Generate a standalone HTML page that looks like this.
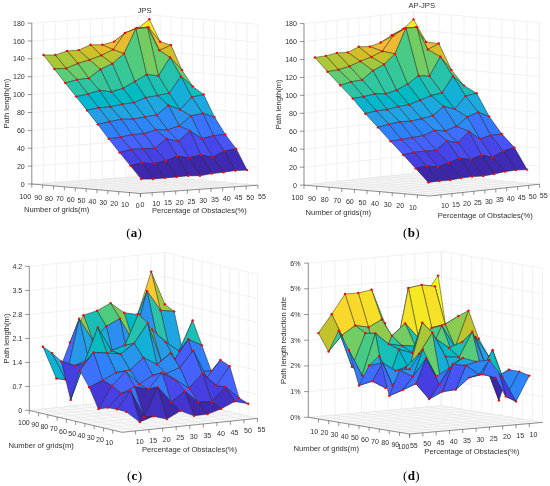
<!DOCTYPE html>
<html><head><meta charset="utf-8"><title>Figure</title>
<style>html,body{margin:0;padding:0;background:#fff}svg{display:block}
text{font-family:"Liberation Sans",Arial,sans-serif;fill:#303030}
.cap{font-family:"Liberation Serif","DejaVu Serif",serif;fill:#000}
.g{stroke:#e2e2e2;stroke-width:.5;fill:none}
.a{stroke:#4d4d4d;stroke-width:.6;fill:none}
.e{stroke:#1a1a1a;stroke-width:.45;fill:none;stroke-linejoin:round}
.m{fill:#f00}</style></head>
<body><svg width="550" height="486" viewBox="0 0 550 486">
<rect width="550" height="486" fill="#fff"/>
<g id="pa">
<polygon points="140.4,193.5 31.8,184 149.3,175.7 257.9,185.2" fill="#f8f8f8"/>
<path d="M140.4,193.5 L257.9,185.2" class="g"/>
<path d="M257.9,185.2 L257.9,24.3" class="g"/>
<path d="M129.5,192.6 L247,184.2" class="g"/>
<path d="M247,184.2 L247,23.3" class="g"/>
<path d="M118.7,191.6 L236.2,183.3" class="g"/>
<path d="M236.2,183.3 L236.2,22.4" class="g"/>
<path d="M107.8,190.7 L225.3,182.3" class="g"/>
<path d="M225.3,182.3 L225.3,21.4" class="g"/>
<path d="M97,189.7 L214.5,181.4" class="g"/>
<path d="M214.5,181.4 L214.5,20.5" class="g"/>
<path d="M86.1,188.8 L203.6,180.4" class="g"/>
<path d="M203.6,180.4 L203.6,19.5" class="g"/>
<path d="M75.2,187.8 L192.7,179.5" class="g"/>
<path d="M192.7,179.5 L192.7,18.6" class="g"/>
<path d="M64.4,186.8 L181.9,178.5" class="g"/>
<path d="M181.9,178.5 L181.9,17.6" class="g"/>
<path d="M53.5,185.9 L171,177.6" class="g"/>
<path d="M171,177.6 L171,16.7" class="g"/>
<path d="M42.7,184.9 L160.2,176.6" class="g"/>
<path d="M160.2,176.6 L160.2,15.7" class="g"/>
<path d="M31.8,184 L149.3,175.7" class="g"/>
<path d="M149.3,175.7 L149.3,14.8" class="g"/>
<path d="M140.4,193.5 L31.8,184" class="g"/>
<path d="M31.8,184 L31.8,23.1" class="g"/>
<path d="M152.2,192.7 L43.6,183.2" class="g"/>
<path d="M43.6,183.2 L43.6,22.2" class="g"/>
<path d="M163.9,191.8 L55.3,182.3" class="g"/>
<path d="M55.3,182.3 L55.3,21.4" class="g"/>
<path d="M175.7,191 L67.1,181.5" class="g"/>
<path d="M67.1,181.5 L67.1,20.6" class="g"/>
<path d="M187.4,190.2 L78.8,180.7" class="g"/>
<path d="M78.8,180.7 L78.8,19.8" class="g"/>
<path d="M199.2,189.3 L90.6,179.8" class="g"/>
<path d="M90.6,179.8 L90.6,18.9" class="g"/>
<path d="M210.9,188.5 L102.3,179" class="g"/>
<path d="M102.3,179 L102.3,18.1" class="g"/>
<path d="M222.7,187.7 L114.1,178.2" class="g"/>
<path d="M114.1,178.2 L114.1,17.3" class="g"/>
<path d="M234.4,186.9 L125.8,177.4" class="g"/>
<path d="M125.8,177.4 L125.8,16.4" class="g"/>
<path d="M246.2,186 L137.6,176.5" class="g"/>
<path d="M137.6,176.5 L137.6,15.6" class="g"/>
<path d="M257.9,185.2 L149.3,175.7" class="g"/>
<path d="M149.3,175.7 L149.3,14.8" class="g"/>
<path d="M31.8,184 L149.3,175.7" class="g"/>
<path d="M257.9,185.2 L149.3,175.7" class="g"/>
<path d="M31.8,166.1 L149.3,157.8" class="g"/>
<path d="M257.9,167.3 L149.3,157.8" class="g"/>
<path d="M31.8,148.2 L149.3,139.9" class="g"/>
<path d="M257.9,149.4 L149.3,139.9" class="g"/>
<path d="M31.8,130.4 L149.3,122.1" class="g"/>
<path d="M257.9,131.6 L149.3,122.1" class="g"/>
<path d="M31.8,112.5 L149.3,104.2" class="g"/>
<path d="M257.9,113.7 L149.3,104.2" class="g"/>
<path d="M31.8,94.6 L149.3,86.3" class="g"/>
<path d="M257.9,95.8 L149.3,86.3" class="g"/>
<path d="M31.8,76.7 L149.3,68.4" class="g"/>
<path d="M257.9,77.9 L149.3,68.4" class="g"/>
<path d="M31.8,58.8 L149.3,50.5" class="g"/>
<path d="M257.9,60 L149.3,50.5" class="g"/>
<path d="M31.8,41 L149.3,32.7" class="g"/>
<path d="M257.9,42.2 L149.3,32.7" class="g"/>
<path d="M31.8,23.1 L149.3,14.8" class="g"/>
<path d="M257.9,24.3 L149.3,14.8" class="g"/>
<path d="M140.4,193.5 L31.8,184" class="a"/>
<path d="M140.4,193.5 L257.9,185.2" class="a"/>
<path d="M31.8,184 L31.8,23.1" class="a"/>
<path d="M140.4,193.5 L140.4,197.1" class="a"/>
<text x="139.8" y="208.1" font-size="7.1" text-anchor="end" >0</text>
<path d="M129.5,192.6 L129.5,196.2" class="a"/>
<text x="128.9" y="207.2" font-size="7.1" text-anchor="end" >10</text>
<path d="M118.7,191.6 L118.7,195.2" class="a"/>
<text x="118.1" y="206.2" font-size="7.1" text-anchor="end" >20</text>
<path d="M107.8,190.7 L107.8,194.2" class="a"/>
<text x="107.2" y="205.2" font-size="7.1" text-anchor="end" >30</text>
<path d="M97,189.7 L97,193.3" class="a"/>
<text x="96.4" y="204.3" font-size="7.1" text-anchor="end" >40</text>
<path d="M86.1,188.8 L86.1,192.3" class="a"/>
<text x="85.5" y="203.3" font-size="7.1" text-anchor="end" >50</text>
<path d="M75.2,187.8 L75.2,191.4" class="a"/>
<text x="74.6" y="202.4" font-size="7.1" text-anchor="end" >60</text>
<path d="M64.4,186.8 L64.4,190.4" class="a"/>
<text x="63.8" y="201.4" font-size="7.1" text-anchor="end" >70</text>
<path d="M53.5,185.9 L53.5,189.5" class="a"/>
<text x="52.9" y="200.5" font-size="7.1" text-anchor="end" >80</text>
<path d="M42.7,184.9 L42.7,188.5" class="a"/>
<text x="42.1" y="199.5" font-size="7.1" text-anchor="end" >90</text>
<path d="M31.8,184 L31.8,187.6" class="a"/>
<text x="31.2" y="198.6" font-size="7.1" text-anchor="end" >100</text>
<path d="M140.4,193.5 L140.4,197.1" class="a"/>
<text x="140.5" y="207" font-size="7.1" text-anchor="start" >0</text>
<path d="M152.2,192.7 L152.2,196.3" class="a"/>
<text x="152.2" y="206.2" font-size="7.1" text-anchor="start" >10</text>
<path d="M163.9,191.8 L163.9,195.4" class="a"/>
<text x="164" y="205.3" font-size="7.1" text-anchor="start" >15</text>
<path d="M175.7,191 L175.7,194.6" class="a"/>
<text x="175.8" y="204.5" font-size="7.1" text-anchor="start" >20</text>
<path d="M187.4,190.2 L187.4,193.8" class="a"/>
<text x="187.5" y="203.7" font-size="7.1" text-anchor="start" >25</text>
<path d="M199.2,189.3 L199.2,192.9" class="a"/>
<text x="199.2" y="202.8" font-size="7.1" text-anchor="start" >30</text>
<path d="M210.9,188.5 L210.9,192.1" class="a"/>
<text x="211" y="202" font-size="7.1" text-anchor="start" >35</text>
<path d="M222.7,187.7 L222.7,191.3" class="a"/>
<text x="222.8" y="201.2" font-size="7.1" text-anchor="start" >40</text>
<path d="M234.4,186.9 L234.4,190.5" class="a"/>
<text x="234.5" y="200.4" font-size="7.1" text-anchor="start" >45</text>
<path d="M246.2,186 L246.2,189.6" class="a"/>
<text x="246.2" y="199.5" font-size="7.1" text-anchor="start" >50</text>
<path d="M257.9,185.2 L257.9,188.8" class="a"/>
<text x="258" y="198.7" font-size="7.1" text-anchor="start" >55</text>
<path d="M31.8,184 L27.6,184" class="a"/>
<text x="24.8" y="186.5" font-size="7.1" text-anchor="end" >0</text>
<path d="M31.8,166.1 L27.6,166.1" class="a"/>
<text x="24.8" y="168.6" font-size="7.1" text-anchor="end" >20</text>
<path d="M31.8,148.2 L27.6,148.2" class="a"/>
<text x="24.8" y="150.7" font-size="7.1" text-anchor="end" >40</text>
<path d="M31.8,130.4 L27.6,130.4" class="a"/>
<text x="24.8" y="132.9" font-size="7.1" text-anchor="end" >60</text>
<path d="M31.8,112.5 L27.6,112.5" class="a"/>
<text x="24.8" y="115" font-size="7.1" text-anchor="end" >80</text>
<path d="M31.8,94.6 L27.6,94.6" class="a"/>
<text x="24.8" y="97.1" font-size="7.1" text-anchor="end" >100</text>
<path d="M31.8,76.7 L27.6,76.7" class="a"/>
<text x="24.8" y="79.2" font-size="7.1" text-anchor="end" >120</text>
<path d="M31.8,58.8 L27.6,58.8" class="a"/>
<text x="24.8" y="61.3" font-size="7.1" text-anchor="end" >140</text>
<path d="M31.8,41 L27.6,41" class="a"/>
<text x="24.8" y="43.5" font-size="7.1" text-anchor="end" >160</text>
<path d="M31.8,23.1 L27.6,23.1" class="a"/>
<text x="24.8" y="25.6" font-size="7.1" text-anchor="end" >180</text>
<text x="8.9" y="103.6" font-size="7.6" text-anchor="middle" transform="rotate(-90 8.9 103.6)">Path length(m)</text>
<text x="56.7" y="212" font-size="7.6" text-anchor="middle" >Number of grids(m)</text>
<text x="199.4" y="213" font-size="7.6" text-anchor="middle" >Percentage of Obstacles(%)</text>
<text x="144.5" y="12.5" font-size="7.6" text-anchor="middle" >JPS</text>
<path d="M148.4,27.2 L137.6,28.5 L149.3,19.2 Z M148.4,27.2 L149.3,19.2 L160.2,41.8 Z" fill="#f5eb23" stroke="#f5eb23" stroke-width="0.25"/>
<path d="M148.4,27.2 L137.6,28.5 L149.3,19.2 L160.2,41.8 Z" class="e"/>
<g class="m"><circle cx="149.3" cy="19.2" r="1.2"/></g>
<path d="M136.7,28 L125.8,34.2 L137.6,28.5 Z M136.7,28 L137.6,28.5 L148.4,27.2 Z" fill="#f5eb23" stroke="#f5eb23" stroke-width="0.25"/>
<path d="M136.7,28 L125.8,34.2 L137.6,28.5 L148.4,27.2 Z" class="e"/>
<g class="m"><circle cx="137.6" cy="28.5" r="1.2"/></g>
<path d="M124.9,33 L114.1,41.6 L125.8,34.2 Z M124.9,33 L125.8,34.2 L136.7,28 Z" fill="#f6df29" stroke="#f6df29" stroke-width="0.25"/>
<path d="M124.9,33 L114.1,41.6 L125.8,34.2 L136.7,28 Z" class="e"/>
<g class="m"><circle cx="125.8" cy="34.2" r="1.2"/></g>
<path d="M113.2,49.6 L102.3,44.8 L114.1,41.6 Z M113.2,49.6 L114.1,41.6 L124.9,33 Z" fill="#f5ba3a" stroke="#f5ba3a" stroke-width="0.25"/>
<path d="M113.2,49.6 L102.3,44.8 L114.1,41.6 L124.9,33 Z" class="e"/>
<g class="m"><circle cx="114.1" cy="41.6" r="1.2"/></g>
<path d="M101.4,55.4 L90.6,44.8 L102.3,44.8 Z M101.4,55.4 L102.3,44.8 L113.2,49.6 Z" fill="#e1bc2b" stroke="#e1bc2b" stroke-width="0.25"/>
<path d="M101.4,55.4 L90.6,44.8 L102.3,44.8 L113.2,49.6 Z" class="e"/>
<g class="m"><circle cx="102.3" cy="44.8" r="1.2"/></g>
<path d="M89.7,59.9 L78.8,50.1 L90.6,44.8 Z M89.7,59.9 L90.6,44.8 L101.4,55.4 Z" fill="#cfc028" stroke="#cfc028" stroke-width="0.25"/>
<path d="M89.7,59.9 L78.8,50.1 L90.6,44.8 L101.4,55.4 Z" class="e"/>
<g class="m"><circle cx="90.6" cy="44.8" r="1.2"/></g>
<path d="M77.9,63.4 L67.1,51 L78.8,50.1 Z M77.9,63.4 L78.8,50.1 L89.7,59.9 Z" fill="#c1c32c" stroke="#c1c32c" stroke-width="0.25"/>
<path d="M77.9,63.4 L67.1,51 L78.8,50.1 L89.7,59.9 Z" class="e"/>
<g class="m"><circle cx="78.8" cy="50.1" r="1.2"/></g>
<path d="M66.2,68.5 L55.3,55 L67.1,51 Z M66.2,68.5 L67.1,51 L77.9,63.4 Z" fill="#a9c73a" stroke="#a9c73a" stroke-width="0.25"/>
<path d="M66.2,68.5 L55.3,55 L67.1,51 L77.9,63.4 Z" class="e"/>
<g class="m"><circle cx="67.1" cy="51" r="1.2"/></g>
<path d="M54.4,69 L43.6,55 L55.3,55 Z M54.4,69 L55.3,55 L66.2,68.5 Z" fill="#abc739" stroke="#abc739" stroke-width="0.25"/>
<path d="M54.4,69 L43.6,55 L55.3,55 L66.2,68.5 Z" class="e"/>
<g class="m"><circle cx="55.3" cy="55" r="1.2"/><circle cx="43.6" cy="55" r="1.2"/></g>
<path d="M159.3,50.3 L148.4,27.2 L160.2,41.8 Z M159.3,50.3 L160.2,41.8 L171,45.1 Z" fill="#ecba33" stroke="#ecba33" stroke-width="0.25"/>
<path d="M159.3,50.3 L148.4,27.2 L160.2,41.8 L171,45.1 Z" class="e"/>
<g class="m"><circle cx="160.2" cy="41.8" r="1.2"/></g>
<path d="M147.5,27.6 L136.7,28 L148.4,27.2 Z M147.5,27.6 L148.4,27.2 L159.3,50.3 Z" fill="#f5ee21" stroke="#f5ee21" stroke-width="0.25"/>
<path d="M147.5,27.6 L136.7,28 L148.4,27.2 L159.3,50.3 Z" class="e"/>
<g class="m"><circle cx="148.4" cy="27.2" r="1.2"/></g>
<path d="M135.8,28.8 L124.9,33 L136.7,28 Z M135.8,28.8 L136.7,28 L147.5,27.6 Z" fill="#f5ed21" stroke="#f5ed21" stroke-width="0.25"/>
<path d="M135.8,28.8 L124.9,33 L136.7,28 L147.5,27.6 Z" class="e"/>
<g class="m"><circle cx="136.7" cy="28" r="1.2"/></g>
<path d="M124,53.7 L113.2,49.6 L124.9,33 Z M124,53.7 L124.9,33 L135.8,28.8 Z" fill="#e9bb2f" stroke="#e9bb2f" stroke-width="0.25"/>
<path d="M124,53.7 L113.2,49.6 L124.9,33 L135.8,28.8 Z" class="e"/>
<g class="m"><circle cx="124.9" cy="33" r="1.2"/></g>
<path d="M112.3,63.7 L101.4,55.4 L113.2,49.6 Z M112.3,63.7 L113.2,49.6 L124,53.7 Z" fill="#bcc42f" stroke="#bcc42f" stroke-width="0.25"/>
<path d="M112.3,63.7 L101.4,55.4 L113.2,49.6 L124,53.7 Z" class="e"/>
<g class="m"><circle cx="113.2" cy="49.6" r="1.2"/></g>
<path d="M100.5,69.4 L89.7,59.9 L101.4,55.4 Z M100.5,69.4 L101.4,55.4 L112.3,63.7 Z" fill="#9fc941" stroke="#9fc941" stroke-width="0.25"/>
<path d="M100.5,69.4 L89.7,59.9 L101.4,55.4 L112.3,63.7 Z" class="e"/>
<g class="m"><circle cx="101.4" cy="55.4" r="1.2"/></g>
<path d="M88.8,78.2 L77.9,63.4 L89.7,59.9 Z M88.8,78.2 L89.7,59.9 L100.5,69.4 Z" fill="#6dcd68" stroke="#6dcd68" stroke-width="0.25"/>
<path d="M88.8,78.2 L77.9,63.4 L89.7,59.9 L100.5,69.4 Z" class="e"/>
<g class="m"><circle cx="89.7" cy="59.9" r="1.2"/></g>
<path d="M77,79.8 L66.2,68.5 L77.9,63.4 Z M77,79.8 L77.9,63.4 L88.8,78.2 Z" fill="#68cd6b" stroke="#68cd6b" stroke-width="0.25"/>
<path d="M77,79.8 L66.2,68.5 L77.9,63.4 L88.8,78.2 Z" class="e"/>
<g class="m"><circle cx="77.9" cy="63.4" r="1.2"/></g>
<path d="M65.3,83 L54.4,69 L66.2,68.5 Z M65.3,83 L66.2,68.5 L77,79.8 Z" fill="#5bcc77" stroke="#5bcc77" stroke-width="0.25"/>
<path d="M65.3,83 L54.4,69 L66.2,68.5 L77,79.8 Z" class="e"/>
<g class="m"><circle cx="66.2" cy="68.5" r="1.2"/><circle cx="54.4" cy="69" r="1.2"/></g>
<path d="M170.1,57.5 L159.3,50.3 L171,45.1 Z M170.1,57.5 L171,45.1 L181.9,70 Z" fill="#d0bf27" stroke="#d0bf27" stroke-width="0.25"/>
<path d="M170.1,57.5 L159.3,50.3 L171,45.1 L181.9,70 Z" class="e"/>
<g class="m"><circle cx="171" cy="45.1" r="1.2"/></g>
<path d="M158.4,75.8 L147.5,27.6 L159.3,50.3 Z M158.4,75.8 L159.3,50.3 L170.1,57.5 Z" fill="#68cd6c" stroke="#68cd6c" stroke-width="0.25"/>
<path d="M158.4,75.8 L147.5,27.6 L159.3,50.3 L170.1,57.5 Z" class="e"/>
<g class="m"><circle cx="159.3" cy="50.3" r="1.2"/></g>
<path d="M146.6,74.6 L135.8,28.8 L147.5,27.6 Z M146.6,74.6 L147.5,27.6 L158.4,75.8 Z" fill="#75cc62" stroke="#75cc62" stroke-width="0.25"/>
<path d="M146.6,74.6 L135.8,28.8 L147.5,27.6 L158.4,75.8 Z" class="e"/>
<g class="m"><circle cx="147.5" cy="27.6" r="1.2"/></g>
<path d="M134.9,81.5 L124,53.7 L135.8,28.8 Z M134.9,81.5 L135.8,28.8 L146.6,74.6 Z" fill="#51cc7f" stroke="#51cc7f" stroke-width="0.25"/>
<path d="M134.9,81.5 L124,53.7 L135.8,28.8 L146.6,74.6 Z" class="e"/>
<g class="m"><circle cx="135.8" cy="28.8" r="1.2"/></g>
<path d="M123.1,88.4 L112.3,63.7 L124,53.7 Z M123.1,88.4 L124,53.7 L134.9,81.5 Z" fill="#37c898" stroke="#37c898" stroke-width="0.25"/>
<path d="M123.1,88.4 L112.3,63.7 L124,53.7 L134.9,81.5 Z" class="e"/>
<g class="m"><circle cx="124" cy="53.7" r="1.2"/></g>
<path d="M111.4,91.8 L100.5,69.4 L112.3,63.7 Z M111.4,91.8 L112.3,63.7 L123.1,88.4 Z" fill="#30c5a1" stroke="#30c5a1" stroke-width="0.25"/>
<path d="M111.4,91.8 L100.5,69.4 L112.3,63.7 L123.1,88.4 Z" class="e"/>
<g class="m"><circle cx="112.3" cy="63.7" r="1.2"/></g>
<path d="M99.6,90.5 L88.8,78.2 L100.5,69.4 Z M99.6,90.5 L100.5,69.4 L111.4,91.8 Z" fill="#35c799" stroke="#35c799" stroke-width="0.25"/>
<path d="M99.6,90.5 L88.8,78.2 L100.5,69.4 L111.4,91.8 Z" class="e"/>
<g class="m"><circle cx="100.5" cy="69.4" r="1.2"/></g>
<path d="M87.9,94.1 L77,79.8 L88.8,78.2 Z M87.9,94.1 L88.8,78.2 L99.6,90.5 Z" fill="#2fc5a3" stroke="#2fc5a3" stroke-width="0.25"/>
<path d="M87.9,94.1 L77,79.8 L88.8,78.2 L99.6,90.5 Z" class="e"/>
<g class="m"><circle cx="88.8" cy="78.2" r="1.2"/></g>
<path d="M76.1,96.6 L65.3,83 L77,79.8 Z M76.1,96.6 L77,79.8 L87.9,94.1 Z" fill="#2ac3a9" stroke="#2ac3a9" stroke-width="0.25"/>
<path d="M76.1,96.6 L65.3,83 L77,79.8 L87.9,94.1 Z" class="e"/>
<g class="m"><circle cx="77" cy="79.8" r="1.2"/><circle cx="65.3" cy="83" r="1.2"/></g>
<path d="M181,76.4 L170.1,57.5 L181.9,70 Z M181,76.4 L181.9,70 L192.7,86.4 Z" fill="#65cd6e" stroke="#65cd6e" stroke-width="0.25"/>
<path d="M181,76.4 L170.1,57.5 L181.9,70 L192.7,86.4 Z" class="e"/>
<g class="m"><circle cx="181.9" cy="70" r="1.2"/></g>
<path d="M169.2,93.1 L158.4,75.8 L170.1,57.5 Z M169.2,93.1 L170.1,57.5 L181,76.4 Z" fill="#25c2ad" stroke="#25c2ad" stroke-width="0.25"/>
<path d="M169.2,93.1 L158.4,75.8 L170.1,57.5 L181,76.4 Z" class="e"/>
<g class="m"><circle cx="170.1" cy="57.5" r="1.2"/></g>
<path d="M157.5,95.6 L146.6,74.6 L158.4,75.8 Z M157.5,95.6 L158.4,75.8 L169.2,93.1 Z" fill="#1ec0b2" stroke="#1ec0b2" stroke-width="0.25"/>
<path d="M157.5,95.6 L146.6,74.6 L158.4,75.8 L169.2,93.1 Z" class="e"/>
<g class="m"><circle cx="158.4" cy="75.8" r="1.2"/></g>
<path d="M145.7,97.7 L134.9,81.5 L146.6,74.6 Z M145.7,97.7 L146.6,74.6 L157.5,95.6 Z" fill="#17bfb6" stroke="#17bfb6" stroke-width="0.25"/>
<path d="M145.7,97.7 L134.9,81.5 L146.6,74.6 L157.5,95.6 Z" class="e"/>
<g class="m"><circle cx="146.6" cy="74.6" r="1.2"/></g>
<path d="M134,102.6 L123.1,88.4 L134.9,81.5 Z M134,102.6 L134.9,81.5 L145.7,97.7 Z" fill="#03bbc2" stroke="#03bbc2" stroke-width="0.25"/>
<path d="M134,102.6 L123.1,88.4 L134.9,81.5 L145.7,97.7 Z" class="e"/>
<g class="m"><circle cx="134.9" cy="81.5" r="1.2"/></g>
<path d="M122.2,104.3 L111.4,91.8 L123.1,88.4 Z M122.2,104.3 L123.1,88.4 L134,102.6 Z" fill="#02bac5" stroke="#02bac5" stroke-width="0.25"/>
<path d="M122.2,104.3 L111.4,91.8 L123.1,88.4 L134,102.6 Z" class="e"/>
<g class="m"><circle cx="123.1" cy="88.4" r="1.2"/></g>
<path d="M110.5,106.9 L99.6,90.5 L111.4,91.8 Z M110.5,106.9 L111.4,91.8 L122.2,104.3 Z" fill="#01b8ca" stroke="#01b8ca" stroke-width="0.25"/>
<path d="M110.5,106.9 L99.6,90.5 L111.4,91.8 L122.2,104.3 Z" class="e"/>
<g class="m"><circle cx="111.4" cy="91.8" r="1.2"/></g>
<path d="M98.7,107.8 L87.9,94.1 L99.6,90.5 Z M98.7,107.8 L99.6,90.5 L110.5,106.9 Z" fill="#01b8ca" stroke="#01b8ca" stroke-width="0.25"/>
<path d="M98.7,107.8 L87.9,94.1 L99.6,90.5 L110.5,106.9 Z" class="e"/>
<g class="m"><circle cx="99.6" cy="90.5" r="1.2"/></g>
<path d="M87,110.4 L76.1,96.6 L87.9,94.1 Z M87,110.4 L87.9,94.1 L98.7,107.8 Z" fill="#06b5cf" stroke="#06b5cf" stroke-width="0.25"/>
<path d="M87,110.4 L76.1,96.6 L87.9,94.1 L98.7,107.8 Z" class="e"/>
<g class="m"><circle cx="87.9" cy="94.1" r="1.2"/><circle cx="76.1" cy="96.6" r="1.2"/></g>
<path d="M191.9,97.2 L181,76.4 L192.7,86.4 Z M191.9,97.2 L192.7,86.4 L203.6,94.5 Z" fill="#11beb9" stroke="#11beb9" stroke-width="0.25"/>
<path d="M191.9,97.2 L181,76.4 L192.7,86.4 L203.6,94.5 Z" class="e"/>
<g class="m"><circle cx="192.7" cy="86.4" r="1.2"/></g>
<path d="M180.1,109.7 L169.2,93.1 L181,76.4 Z M180.1,109.7 L181,76.4 L191.9,97.2 Z" fill="#16afd9" stroke="#16afd9" stroke-width="0.25"/>
<path d="M180.1,109.7 L169.2,93.1 L181,76.4 L191.9,97.2 Z" class="e"/>
<g class="m"><circle cx="181" cy="76.4" r="1.2"/></g>
<path d="M168.4,105.4 L157.5,95.6 L169.2,93.1 Z M168.4,105.4 L169.2,93.1 L180.1,109.7 Z" fill="#04b6cc" stroke="#04b6cc" stroke-width="0.25"/>
<path d="M168.4,105.4 L157.5,95.6 L169.2,93.1 L180.1,109.7 Z" class="e"/>
<g class="m"><circle cx="169.2" cy="93.1" r="1.2"/></g>
<path d="M156.6,115 L145.7,97.7 L157.5,95.6 Z M156.6,115 L157.5,95.6 L168.4,105.4 Z" fill="#1da8e0" stroke="#1da8e0" stroke-width="0.25"/>
<path d="M156.6,115 L145.7,97.7 L157.5,95.6 L168.4,105.4 Z" class="e"/>
<g class="m"><circle cx="157.5" cy="95.6" r="1.2"/></g>
<path d="M144.9,117 L134,102.6 L145.7,97.7 Z M144.9,117 L145.7,97.7 L156.6,115 Z" fill="#1fa6e2" stroke="#1fa6e2" stroke-width="0.25"/>
<path d="M144.9,117 L134,102.6 L145.7,97.7 L156.6,115 Z" class="e"/>
<g class="m"><circle cx="145.7" cy="97.7" r="1.2"/></g>
<path d="M133.1,119.1 L122.2,104.3 L134,102.6 Z M133.1,119.1 L134,102.6 L144.9,117 Z" fill="#21a3e3" stroke="#21a3e3" stroke-width="0.25"/>
<path d="M133.1,119.1 L122.2,104.3 L134,102.6 L144.9,117 Z" class="e"/>
<g class="m"><circle cx="134" cy="102.6" r="1.2"/></g>
<path d="M121.4,119.3 L110.5,106.9 L122.2,104.3 Z M121.4,119.3 L122.2,104.3 L133.1,119.1 Z" fill="#20a5e3" stroke="#20a5e3" stroke-width="0.25"/>
<path d="M121.4,119.3 L110.5,106.9 L122.2,104.3 L133.1,119.1 Z" class="e"/>
<g class="m"><circle cx="122.2" cy="104.3" r="1.2"/></g>
<path d="M109.6,121.7 L98.7,107.8 L110.5,106.9 Z M109.6,121.7 L110.5,106.9 L121.4,119.3 Z" fill="#22a1e4" stroke="#22a1e4" stroke-width="0.25"/>
<path d="M109.6,121.7 L98.7,107.8 L110.5,106.9 L121.4,119.3 Z" class="e"/>
<g class="m"><circle cx="110.5" cy="106.9" r="1.2"/></g>
<path d="M97.9,124.4 L87,110.4 L98.7,107.8 Z M97.9,124.4 L98.7,107.8 L109.6,121.7 Z" fill="#249ee6" stroke="#249ee6" stroke-width="0.25"/>
<path d="M97.9,124.4 L87,110.4 L98.7,107.8 L109.6,121.7 Z" class="e"/>
<g class="m"><circle cx="98.7" cy="107.8" r="1.2"/><circle cx="87" cy="110.4" r="1.2"/></g>
<path d="M202.7,113.4 L191.9,97.2 L203.6,94.5 Z M202.7,113.4 L203.6,94.5 L214.5,117.1 Z" fill="#1da8e0" stroke="#1da8e0" stroke-width="0.25"/>
<path d="M202.7,113.4 L191.9,97.2 L203.6,94.5 L214.5,117.1 Z" class="e"/>
<g class="m"><circle cx="203.6" cy="94.5" r="1.2"/></g>
<path d="M191,116 L180.1,109.7 L191.9,97.2 Z M191,116 L191.9,97.2 L202.7,113.4 Z" fill="#20a5e2" stroke="#20a5e2" stroke-width="0.25"/>
<path d="M191,116 L180.1,109.7 L191.9,97.2 L202.7,113.4 Z" class="e"/>
<g class="m"><circle cx="191.9" cy="97.2" r="1.2"/></g>
<path d="M179.2,125.9 L168.4,105.4 L180.1,109.7 Z M179.2,125.9 L180.1,109.7 L191,116 Z" fill="#2b92ee" stroke="#2b92ee" stroke-width="0.25"/>
<path d="M179.2,125.9 L168.4,105.4 L180.1,109.7 L191,116 Z" class="e"/>
<g class="m"><circle cx="180.1" cy="109.7" r="1.2"/></g>
<path d="M167.5,130 L156.6,115 L168.4,105.4 Z M167.5,130 L168.4,105.4 L179.2,125.9 Z" fill="#2d8af4" stroke="#2d8af4" stroke-width="0.25"/>
<path d="M167.5,130 L156.6,115 L168.4,105.4 L179.2,125.9 Z" class="e"/>
<g class="m"><circle cx="168.4" cy="105.4" r="1.2"/></g>
<path d="M155.7,129.8 L144.9,117 L156.6,115 Z M155.7,129.8 L156.6,115 L167.5,130 Z" fill="#2d8df2" stroke="#2d8df2" stroke-width="0.25"/>
<path d="M155.7,129.8 L144.9,117 L156.6,115 L167.5,130 Z" class="e"/>
<g class="m"><circle cx="156.6" cy="115" r="1.2"/></g>
<path d="M144,133.7 L133.1,119.1 L144.9,117 Z M144,133.7 L144.9,117 L155.7,129.8 Z" fill="#2e86f8" stroke="#2e86f8" stroke-width="0.25"/>
<path d="M144,133.7 L133.1,119.1 L144.9,117 L155.7,129.8 Z" class="e"/>
<g class="m"><circle cx="144.9" cy="117" r="1.2"/></g>
<path d="M132.2,134.7 L121.4,119.3 L133.1,119.1 Z M132.2,134.7 L133.1,119.1 L144,133.7 Z" fill="#2e85f8" stroke="#2e85f8" stroke-width="0.25"/>
<path d="M132.2,134.7 L121.4,119.3 L133.1,119.1 L144,133.7 Z" class="e"/>
<g class="m"><circle cx="133.1" cy="119.1" r="1.2"/></g>
<path d="M120.5,137.2 L109.6,121.7 L121.4,119.3 Z M120.5,137.2 L121.4,119.3 L132.2,134.7 Z" fill="#2f81fa" stroke="#2f81fa" stroke-width="0.25"/>
<path d="M120.5,137.2 L109.6,121.7 L121.4,119.3 L132.2,134.7 Z" class="e"/>
<g class="m"><circle cx="121.4" cy="119.3" r="1.2"/></g>
<path d="M108.7,138.8 L97.9,124.4 L109.6,121.7 Z M108.7,138.8 L109.6,121.7 L120.5,137.2 Z" fill="#307ffb" stroke="#307ffb" stroke-width="0.25"/>
<path d="M108.7,138.8 L97.9,124.4 L109.6,121.7 L120.5,137.2 Z" class="e"/>
<g class="m"><circle cx="109.6" cy="121.7" r="1.2"/><circle cx="97.9" cy="124.4" r="1.2"/></g>
<path d="M213.6,135.7 L202.7,113.4 L214.5,117.1 Z M213.6,135.7 L214.5,117.1 L225.3,134.5 Z" fill="#3579fd" stroke="#3579fd" stroke-width="0.25"/>
<path d="M213.6,135.7 L202.7,113.4 L214.5,117.1 L225.3,134.5 Z" class="e"/>
<g class="m"><circle cx="214.5" cy="117.1" r="1.2"/></g>
<path d="M201.8,138.6 L191,116 L202.7,113.4 Z M201.8,138.6 L202.7,113.4 L213.6,135.7 Z" fill="#3b73fe" stroke="#3b73fe" stroke-width="0.25"/>
<path d="M201.8,138.6 L191,116 L202.7,113.4 L213.6,135.7 Z" class="e"/>
<g class="m"><circle cx="202.7" cy="113.4" r="1.2"/></g>
<path d="M190.1,131 L179.2,125.9 L191,116 Z M190.1,131 L191,116 L201.8,138.6 Z" fill="#2d88f6" stroke="#2d88f6" stroke-width="0.25"/>
<path d="M190.1,131 L179.2,125.9 L191,116 L201.8,138.6 Z" class="e"/>
<g class="m"><circle cx="191" cy="116" r="1.2"/></g>
<path d="M178.3,141.3 L167.5,130 L179.2,125.9 Z M178.3,141.3 L179.2,125.9 L190.1,131 Z" fill="#3d70ff" stroke="#3d70ff" stroke-width="0.25"/>
<path d="M178.3,141.3 L167.5,130 L179.2,125.9 L190.1,131 Z" class="e"/>
<g class="m"><circle cx="179.2" cy="125.9" r="1.2"/></g>
<path d="M166.6,138.8 L155.7,129.8 L167.5,130 Z M166.6,138.8 L167.5,130 L178.3,141.3 Z" fill="#3479fd" stroke="#3479fd" stroke-width="0.25"/>
<path d="M166.6,138.8 L155.7,129.8 L167.5,130 L178.3,141.3 Z" class="e"/>
<g class="m"><circle cx="167.5" cy="130" r="1.2"/></g>
<path d="M154.8,148.3 L144,133.7 L155.7,129.8 Z M154.8,148.3 L155.7,129.8 L166.6,138.8 Z" fill="#4562fc" stroke="#4562fc" stroke-width="0.25"/>
<path d="M154.8,148.3 L144,133.7 L155.7,129.8 L166.6,138.8 Z" class="e"/>
<g class="m"><circle cx="155.7" cy="129.8" r="1.2"/></g>
<path d="M143.1,148.9 L132.2,134.7 L144,133.7 Z M143.1,148.9 L144,133.7 L154.8,148.3 Z" fill="#4563fc" stroke="#4563fc" stroke-width="0.25"/>
<path d="M143.1,148.9 L132.2,134.7 L144,133.7 L154.8,148.3 Z" class="e"/>
<g class="m"><circle cx="144" cy="133.7" r="1.2"/></g>
<path d="M131.3,149.5 L120.5,137.2 L132.2,134.7 Z M131.3,149.5 L132.2,134.7 L143.1,148.9 Z" fill="#4563fd" stroke="#4563fd" stroke-width="0.25"/>
<path d="M131.3,149.5 L120.5,137.2 L132.2,134.7 L143.1,148.9 Z" class="e"/>
<g class="m"><circle cx="132.2" cy="134.7" r="1.2"/></g>
<path d="M119.6,152.6 L108.7,138.8 L120.5,137.2 Z M119.6,152.6 L120.5,137.2 L131.3,149.5 Z" fill="#465efb" stroke="#465efb" stroke-width="0.25"/>
<path d="M119.6,152.6 L108.7,138.8 L120.5,137.2 L131.3,149.5 Z" class="e"/>
<g class="m"><circle cx="120.5" cy="137.2" r="1.2"/><circle cx="108.7" cy="138.8" r="1.2"/></g>
<path d="M224.4,151 L213.6,135.7 L225.3,134.5 Z M224.4,151 L225.3,134.5 L236.2,148.9 Z" fill="#4854f5" stroke="#4854f5" stroke-width="0.25"/>
<path d="M224.4,151 L213.6,135.7 L225.3,134.5 L236.2,148.9 Z" class="e"/>
<g class="m"><circle cx="225.3" cy="134.5" r="1.2"/></g>
<path d="M212.7,157.3 L201.8,138.6 L213.6,135.7 Z M212.7,157.3 L213.6,135.7 L224.4,151 Z" fill="#4746ea" stroke="#4746ea" stroke-width="0.25"/>
<path d="M212.7,157.3 L201.8,138.6 L213.6,135.7 L224.4,151 Z" class="e"/>
<g class="m"><circle cx="213.6" cy="135.7" r="1.2"/></g>
<path d="M200.9,155.1 L190.1,131 L201.8,138.6 Z M200.9,155.1 L201.8,138.6 L212.7,157.3 Z" fill="#484ef1" stroke="#484ef1" stroke-width="0.25"/>
<path d="M200.9,155.1 L190.1,131 L201.8,138.6 L212.7,157.3 Z" class="e"/>
<g class="m"><circle cx="201.8" cy="138.6" r="1.2"/></g>
<path d="M189.2,157.8 L178.3,141.3 L190.1,131 Z M189.2,157.8 L190.1,131 L200.9,155.1 Z" fill="#4849ed" stroke="#4849ed" stroke-width="0.25"/>
<path d="M189.2,157.8 L178.3,141.3 L190.1,131 L200.9,155.1 Z" class="e"/>
<g class="m"><circle cx="190.1" cy="131" r="1.2"/></g>
<path d="M177.4,156.3 L166.6,138.8 L178.3,141.3 Z M177.4,156.3 L178.3,141.3 L189.2,157.8 Z" fill="#484ff2" stroke="#484ff2" stroke-width="0.25"/>
<path d="M177.4,156.3 L166.6,138.8 L178.3,141.3 L189.2,157.8 Z" class="e"/>
<g class="m"><circle cx="178.3" cy="141.3" r="1.2"/></g>
<path d="M165.7,160.8 L154.8,148.3 L166.6,138.8 Z M165.7,160.8 L166.6,138.8 L177.4,156.3 Z" fill="#4746ea" stroke="#4746ea" stroke-width="0.25"/>
<path d="M165.7,160.8 L154.8,148.3 L166.6,138.8 L177.4,156.3 Z" class="e"/>
<g class="m"><circle cx="166.6" cy="138.8" r="1.2"/></g>
<path d="M153.9,163.7 L143.1,148.9 L154.8,148.3 Z M153.9,163.7 L154.8,148.3 L165.7,160.8 Z" fill="#4741e5" stroke="#4741e5" stroke-width="0.25"/>
<path d="M153.9,163.7 L143.1,148.9 L154.8,148.3 L165.7,160.8 Z" class="e"/>
<g class="m"><circle cx="154.8" cy="148.3" r="1.2"/></g>
<path d="M142.2,162.9 L131.3,149.5 L143.1,148.9 Z M142.2,162.9 L143.1,148.9 L153.9,163.7 Z" fill="#4745e9" stroke="#4745e9" stroke-width="0.25"/>
<path d="M142.2,162.9 L131.3,149.5 L143.1,148.9 L153.9,163.7 Z" class="e"/>
<g class="m"><circle cx="143.1" cy="148.9" r="1.2"/></g>
<path d="M130.4,165.6 L119.6,152.6 L131.3,149.5 Z M130.4,165.6 L131.3,149.5 L142.2,162.9 Z" fill="#4740e4" stroke="#4740e4" stroke-width="0.25"/>
<path d="M130.4,165.6 L119.6,152.6 L131.3,149.5 L142.2,162.9 Z" class="e"/>
<g class="m"><circle cx="131.3" cy="149.5" r="1.2"/><circle cx="119.6" cy="152.6" r="1.2"/></g>
<path d="M235.3,170.5 L224.4,151 L236.2,148.9 Z M235.3,170.5 L236.2,148.9 L247,170.1 Z" fill="#402bb6" stroke="#402bb6" stroke-width="0.25"/>
<path d="M235.3,170.5 L224.4,151 L236.2,148.9 L247,170.1 Z" class="e"/>
<g class="m"><circle cx="236.2" cy="148.9" r="1.2"/><circle cx="247" cy="170.1" r="1.2"/></g>
<path d="M223.5,172.2 L212.7,157.3 L224.4,151 Z M223.5,172.2 L224.4,151 L235.3,170.5 Z" fill="#3f29b2" stroke="#3f29b2" stroke-width="0.25"/>
<path d="M223.5,172.2 L212.7,157.3 L224.4,151 L235.3,170.5 Z" class="e"/>
<g class="m"><circle cx="224.4" cy="151" r="1.2"/><circle cx="235.3" cy="170.5" r="1.2"/></g>
<path d="M211.8,173.6 L200.9,155.1 L212.7,157.3 Z M211.8,173.6 L212.7,157.3 L223.5,172.2 Z" fill="#3f28af" stroke="#3f28af" stroke-width="0.25"/>
<path d="M211.8,173.6 L200.9,155.1 L212.7,157.3 L223.5,172.2 Z" class="e"/>
<g class="m"><circle cx="212.7" cy="157.3" r="1.2"/><circle cx="223.5" cy="172.2" r="1.2"/></g>
<path d="M200,175.7 L189.2,157.8 L200.9,155.1 Z M200,175.7 L200.9,155.1 L211.8,173.6 Z" fill="#3e26a8" stroke="#3e26a8" stroke-width="0.25"/>
<path d="M200,175.7 L189.2,157.8 L200.9,155.1 L211.8,173.6 Z" class="e"/>
<g class="m"><circle cx="200.9" cy="155.1" r="1.2"/><circle cx="211.8" cy="173.6" r="1.2"/></g>
<path d="M188.3,175.7 L177.4,156.3 L189.2,157.8 Z M188.3,175.7 L189.2,157.8 L200,175.7 Z" fill="#3f28ad" stroke="#3f28ad" stroke-width="0.25"/>
<path d="M188.3,175.7 L177.4,156.3 L189.2,157.8 L200,175.7 Z" class="e"/>
<g class="m"><circle cx="189.2" cy="157.8" r="1.2"/><circle cx="200" cy="175.7" r="1.2"/></g>
<path d="M176.5,176.9 L165.7,160.8 L177.4,156.3 Z M176.5,176.9 L177.4,156.3 L188.3,175.7 Z" fill="#3e27ab" stroke="#3e27ab" stroke-width="0.25"/>
<path d="M176.5,176.9 L165.7,160.8 L177.4,156.3 L188.3,175.7 Z" class="e"/>
<g class="m"><circle cx="177.4" cy="156.3" r="1.2"/><circle cx="188.3" cy="175.7" r="1.2"/></g>
<path d="M164.8,177.9 L153.9,163.7 L165.7,160.8 Z M164.8,177.9 L165.7,160.8 L176.5,176.9 Z" fill="#3e27aa" stroke="#3e27aa" stroke-width="0.25"/>
<path d="M164.8,177.9 L153.9,163.7 L165.7,160.8 L176.5,176.9 Z" class="e"/>
<g class="m"><circle cx="165.7" cy="160.8" r="1.2"/><circle cx="176.5" cy="176.9" r="1.2"/></g>
<path d="M153,179 L142.2,162.9 L153.9,163.7 Z M153,179 L153.9,163.7 L164.8,177.9 Z" fill="#3e26a8" stroke="#3e26a8" stroke-width="0.25"/>
<path d="M153,179 L142.2,162.9 L153.9,163.7 L164.8,177.9 Z" class="e"/>
<g class="m"><circle cx="153.9" cy="163.7" r="1.2"/><circle cx="164.8" cy="177.9" r="1.2"/></g>
<path d="M141.3,179 L130.4,165.6 L142.2,162.9 Z M141.3,179 L142.2,162.9 L153,179 Z" fill="#3f28ad" stroke="#3f28ad" stroke-width="0.25"/>
<path d="M141.3,179 L130.4,165.6 L142.2,162.9 L153,179 Z" class="e"/>
<g class="m"><circle cx="142.2" cy="162.9" r="1.2"/><circle cx="130.4" cy="165.6" r="1.2"/><circle cx="153" cy="179" r="1.2"/><circle cx="141.3" cy="179" r="1.2"/></g>
</g>
<g id="pb">
<polygon points="430,196 304,185.1 413.6,173.3 539.6,184.2" fill="#f8f8f8"/>
<path d="M430,196 L539.6,184.2" class="g"/>
<path d="M539.6,184.2 L539.6,22.7" class="g"/>
<path d="M417.4,194.9 L527,183.1" class="g"/>
<path d="M527,183.1 L527,21.6" class="g"/>
<path d="M404.8,193.8 L514.4,182" class="g"/>
<path d="M514.4,182 L514.4,20.5" class="g"/>
<path d="M392.2,192.7 L501.8,180.9" class="g"/>
<path d="M501.8,180.9 L501.8,19.4" class="g"/>
<path d="M379.6,191.6 L489.2,179.8" class="g"/>
<path d="M489.2,179.8 L489.2,18.3" class="g"/>
<path d="M367,190.6 L476.6,178.8" class="g"/>
<path d="M476.6,178.8 L476.6,17.2" class="g"/>
<path d="M354.4,189.5 L464,177.7" class="g"/>
<path d="M464,177.7 L464,16.1" class="g"/>
<path d="M341.8,188.4 L451.4,176.6" class="g"/>
<path d="M451.4,176.6 L451.4,15" class="g"/>
<path d="M329.2,187.3 L438.8,175.5" class="g"/>
<path d="M438.8,175.5 L438.8,13.9" class="g"/>
<path d="M316.6,186.2 L426.2,174.4" class="g"/>
<path d="M426.2,174.4 L426.2,12.8" class="g"/>
<path d="M304,185.1 L413.6,173.3" class="g"/>
<path d="M413.6,173.3 L413.6,11.8" class="g"/>
<path d="M430,196 L304,185.1" class="g"/>
<path d="M304,185.1 L304,23.6" class="g"/>
<path d="M441,194.8 L315,183.9" class="g"/>
<path d="M315,183.9 L315,22.4" class="g"/>
<path d="M451.9,193.6 L325.9,182.7" class="g"/>
<path d="M325.9,182.7 L325.9,21.2" class="g"/>
<path d="M462.9,192.5 L336.9,181.6" class="g"/>
<path d="M336.9,181.6 L336.9,20" class="g"/>
<path d="M473.8,191.3 L347.8,180.4" class="g"/>
<path d="M347.8,180.4 L347.8,18.8" class="g"/>
<path d="M484.8,190.1 L358.8,179.2" class="g"/>
<path d="M358.8,179.2 L358.8,17.7" class="g"/>
<path d="M495.8,188.9 L369.8,178" class="g"/>
<path d="M369.8,178 L369.8,16.5" class="g"/>
<path d="M506.7,187.7 L380.7,176.8" class="g"/>
<path d="M380.7,176.8 L380.7,15.3" class="g"/>
<path d="M517.7,186.6 L391.7,175.7" class="g"/>
<path d="M391.7,175.7 L391.7,14.1" class="g"/>
<path d="M528.6,185.4 L402.6,174.5" class="g"/>
<path d="M402.6,174.5 L402.6,12.9" class="g"/>
<path d="M539.6,184.2 L413.6,173.3" class="g"/>
<path d="M413.6,173.3 L413.6,11.8" class="g"/>
<path d="M304,185.1 L413.6,173.3" class="g"/>
<path d="M539.6,184.2 L413.6,173.3" class="g"/>
<path d="M304,167.2 L413.6,155.3" class="g"/>
<path d="M539.6,166.2 L413.6,155.3" class="g"/>
<path d="M304,149.2 L413.6,137.4" class="g"/>
<path d="M539.6,148.3 L413.6,137.4" class="g"/>
<path d="M304,131.2 L413.6,119.4" class="g"/>
<path d="M539.6,130.3 L413.6,119.4" class="g"/>
<path d="M304,113.3 L413.6,101.5" class="g"/>
<path d="M539.6,112.4 L413.6,101.5" class="g"/>
<path d="M304,95.3 L413.6,83.5" class="g"/>
<path d="M539.6,94.4 L413.6,83.5" class="g"/>
<path d="M304,77.4 L413.6,65.6" class="g"/>
<path d="M539.6,76.5 L413.6,65.6" class="g"/>
<path d="M304,59.5 L413.6,47.6" class="g"/>
<path d="M539.6,58.5 L413.6,47.6" class="g"/>
<path d="M304,41.5 L413.6,29.7" class="g"/>
<path d="M539.6,40.6 L413.6,29.7" class="g"/>
<path d="M304,23.6 L413.6,11.8" class="g"/>
<path d="M539.6,22.7 L413.6,11.8" class="g"/>
<path d="M430,196 L304,185.1" class="a"/>
<path d="M430,196 L539.6,184.2" class="a"/>
<path d="M304,185.1 L304,23.6" class="a"/>
<path d="M417.4,194.9 L417.4,198.5" class="a"/>
<text x="416.8" y="209.5" font-size="7.1" text-anchor="end" >10</text>
<path d="M404.8,193.8 L404.8,197.4" class="a"/>
<text x="404.2" y="208.4" font-size="7.1" text-anchor="end" >20</text>
<path d="M392.2,192.7 L392.2,196.3" class="a"/>
<text x="391.6" y="207.3" font-size="7.1" text-anchor="end" >30</text>
<path d="M379.6,191.6 L379.6,195.2" class="a"/>
<text x="379" y="206.2" font-size="7.1" text-anchor="end" >40</text>
<path d="M367,190.6 L367,194.2" class="a"/>
<text x="366.4" y="205.2" font-size="7.1" text-anchor="end" >50</text>
<path d="M354.4,189.5 L354.4,193.1" class="a"/>
<text x="353.8" y="204.1" font-size="7.1" text-anchor="end" >60</text>
<path d="M341.8,188.4 L341.8,192" class="a"/>
<text x="341.2" y="203" font-size="7.1" text-anchor="end" >70</text>
<path d="M329.2,187.3 L329.2,190.9" class="a"/>
<text x="328.6" y="201.9" font-size="7.1" text-anchor="end" >80</text>
<path d="M316.6,186.2 L316.6,189.8" class="a"/>
<text x="316" y="200.8" font-size="7.1" text-anchor="end" >90</text>
<path d="M304,185.1 L304,188.7" class="a"/>
<text x="303.4" y="199.7" font-size="7.1" text-anchor="end" >100</text>
<path d="M441,194.8 L441,198.4" class="a"/>
<text x="441.1" y="208.3" font-size="7.1" text-anchor="start" >10</text>
<path d="M451.9,193.6 L451.9,197.2" class="a"/>
<text x="452" y="207.1" font-size="7.1" text-anchor="start" >15</text>
<path d="M462.9,192.5 L462.9,196.1" class="a"/>
<text x="463" y="206" font-size="7.1" text-anchor="start" >20</text>
<path d="M473.8,191.3 L473.8,194.9" class="a"/>
<text x="473.9" y="204.8" font-size="7.1" text-anchor="start" >25</text>
<path d="M484.8,190.1 L484.8,193.7" class="a"/>
<text x="484.9" y="203.6" font-size="7.1" text-anchor="start" >30</text>
<path d="M495.8,188.9 L495.8,192.5" class="a"/>
<text x="495.9" y="202.4" font-size="7.1" text-anchor="start" >35</text>
<path d="M506.7,187.7 L506.7,191.3" class="a"/>
<text x="506.8" y="201.2" font-size="7.1" text-anchor="start" >40</text>
<path d="M517.7,186.6 L517.7,190.2" class="a"/>
<text x="517.8" y="200.1" font-size="7.1" text-anchor="start" >45</text>
<path d="M528.6,185.4 L528.6,189" class="a"/>
<text x="528.7" y="198.9" font-size="7.1" text-anchor="start" >50</text>
<path d="M539.6,184.2 L539.6,187.8" class="a"/>
<text x="539.7" y="197.7" font-size="7.1" text-anchor="start" >55</text>
<path d="M304,185.1 L299.8,185.1" class="a"/>
<text x="297" y="187.6" font-size="7.1" text-anchor="end" >0</text>
<path d="M304,167.2 L299.8,167.2" class="a"/>
<text x="297" y="169.7" font-size="7.1" text-anchor="end" >20</text>
<path d="M304,149.2 L299.8,149.2" class="a"/>
<text x="297" y="151.7" font-size="7.1" text-anchor="end" >40</text>
<path d="M304,131.2 L299.8,131.2" class="a"/>
<text x="297" y="133.8" font-size="7.1" text-anchor="end" >60</text>
<path d="M304,113.3 L299.8,113.3" class="a"/>
<text x="297" y="115.8" font-size="7.1" text-anchor="end" >80</text>
<path d="M304,95.3 L299.8,95.3" class="a"/>
<text x="297" y="97.8" font-size="7.1" text-anchor="end" >100</text>
<path d="M304,77.4 L299.8,77.4" class="a"/>
<text x="297" y="79.9" font-size="7.1" text-anchor="end" >120</text>
<path d="M304,59.5 L299.8,59.5" class="a"/>
<text x="297" y="62" font-size="7.1" text-anchor="end" >140</text>
<path d="M304,41.5 L299.8,41.5" class="a"/>
<text x="297" y="44" font-size="7.1" text-anchor="end" >160</text>
<path d="M304,23.6 L299.8,23.6" class="a"/>
<text x="297" y="26.1" font-size="7.1" text-anchor="end" >180</text>
<text x="281.4" y="104.3" font-size="7.6" text-anchor="middle" transform="rotate(-90 281.4 104.3)">Path length(m)</text>
<text x="338.3" y="215.3" font-size="7.6" text-anchor="middle" >Number of grids(m)</text>
<text x="485.2" y="218" font-size="7.6" text-anchor="middle" >Percentage of Obstacles(%)</text>
<text x="421.7" y="8.1" font-size="7.6" text-anchor="middle" >AP-JPS</text>
<path d="M415.2,27.5 L402.6,29.4 L413.6,19.4 Z M415.2,27.5 L413.6,19.4 L426.2,42 Z" fill="#f5ec23" stroke="#f5ec23" stroke-width="0.25"/>
<path d="M415.2,27.5 L402.6,29.4 L413.6,19.4 L426.2,42 Z" class="e"/>
<g class="m"><circle cx="413.6" cy="19.4" r="1.2"/></g>
<path d="M404.3,28.5 L391.7,35.2 L402.6,29.4 Z M404.3,28.5 L402.6,29.4 L415.2,27.5 Z" fill="#f5ec22" stroke="#f5ec22" stroke-width="0.25"/>
<path d="M404.3,28.5 L391.7,35.2 L402.6,29.4 L415.2,27.5 Z" class="e"/>
<g class="m"><circle cx="402.6" cy="29.4" r="1.2"/></g>
<path d="M393.3,35.5 L380.7,42.5 L391.7,35.2 Z M393.3,35.5 L391.7,35.2 L404.3,28.5 Z" fill="#f7dc2a" stroke="#f7dc2a" stroke-width="0.25"/>
<path d="M393.3,35.5 L380.7,42.5 L391.7,35.2 L404.3,28.5 Z" class="e"/>
<g class="m"><circle cx="391.7" cy="35.2" r="1.2"/></g>
<path d="M382.4,51.2 L369.8,46.6 L380.7,42.5 Z M382.4,51.2 L380.7,42.5 L393.3,35.5 Z" fill="#f4ba39" stroke="#f4ba39" stroke-width="0.25"/>
<path d="M382.4,51.2 L369.8,46.6 L380.7,42.5 L393.3,35.5 Z" class="e"/>
<g class="m"><circle cx="380.7" cy="42.5" r="1.2"/></g>
<path d="M371.4,57 L358.8,46.8 L369.8,46.6 Z M371.4,57 L369.8,46.6 L382.4,51.2 Z" fill="#e1bc2b" stroke="#e1bc2b" stroke-width="0.25"/>
<path d="M371.4,57 L358.8,46.8 L369.8,46.6 L382.4,51.2 Z" class="e"/>
<g class="m"><circle cx="369.8" cy="46.6" r="1.2"/></g>
<path d="M360.4,61.3 L347.8,52.4 L358.8,46.8 Z M360.4,61.3 L358.8,46.8 L371.4,57 Z" fill="#d2bf27" stroke="#d2bf27" stroke-width="0.25"/>
<path d="M360.4,61.3 L347.8,52.4 L358.8,46.8 L371.4,57 Z" class="e"/>
<g class="m"><circle cx="358.8" cy="46.8" r="1.2"/></g>
<path d="M349.5,66.4 L336.9,52.9 L347.8,52.4 Z M349.5,66.4 L347.8,52.4 L360.4,61.3 Z" fill="#bdc32e" stroke="#bdc32e" stroke-width="0.25"/>
<path d="M349.5,66.4 L336.9,52.9 L347.8,52.4 L360.4,61.3 Z" class="e"/>
<g class="m"><circle cx="347.8" cy="52.4" r="1.2"/></g>
<path d="M338.5,69.7 L325.9,55.9 L336.9,52.9 Z M338.5,69.7 L336.9,52.9 L349.5,66.4 Z" fill="#b1c635" stroke="#b1c635" stroke-width="0.25"/>
<path d="M338.5,69.7 L325.9,55.9 L336.9,52.9 L349.5,66.4 Z" class="e"/>
<g class="m"><circle cx="336.9" cy="52.9" r="1.2"/></g>
<path d="M327.6,71.7 L315,57.5 L325.9,55.9 Z M327.6,71.7 L325.9,55.9 L338.5,69.7 Z" fill="#acc738" stroke="#acc738" stroke-width="0.25"/>
<path d="M327.6,71.7 L315,57.5 L325.9,55.9 L338.5,69.7 Z" class="e"/>
<g class="m"><circle cx="325.9" cy="55.9" r="1.2"/><circle cx="315" cy="57.5" r="1.2"/></g>
<path d="M427.8,49.5 L415.2,27.5 L426.2,42 Z M427.8,49.5 L426.2,42 L438.8,43.5 Z" fill="#f1ba37" stroke="#f1ba37" stroke-width="0.25"/>
<path d="M427.8,49.5 L415.2,27.5 L426.2,42 L438.8,43.5 Z" class="e"/>
<g class="m"><circle cx="426.2" cy="42" r="1.2"/></g>
<path d="M416.9,27.3 L404.3,28.5 L415.2,27.5 Z M416.9,27.3 L415.2,27.5 L427.8,49.5 Z" fill="#f6f21e" stroke="#f6f21e" stroke-width="0.25"/>
<path d="M416.9,27.3 L404.3,28.5 L415.2,27.5 L427.8,49.5 Z" class="e"/>
<g class="m"><circle cx="415.2" cy="27.5" r="1.2"/></g>
<path d="M405.9,28.1 L393.3,35.5 L404.3,28.5 Z M405.9,28.1 L404.3,28.5 L416.9,27.3 Z" fill="#f7f31d" stroke="#f7f31d" stroke-width="0.25"/>
<path d="M405.9,28.1 L393.3,35.5 L404.3,28.5 L416.9,27.3 Z" class="e"/>
<g class="m"><circle cx="404.3" cy="28.5" r="1.2"/></g>
<path d="M395,53.9 L382.4,51.2 L393.3,35.5 Z M395,53.9 L393.3,35.5 L405.9,28.1 Z" fill="#eeba34" stroke="#eeba34" stroke-width="0.25"/>
<path d="M395,53.9 L382.4,51.2 L393.3,35.5 L405.9,28.1 Z" class="e"/>
<g class="m"><circle cx="393.3" cy="35.5" r="1.2"/></g>
<path d="M384,64.5 L371.4,57 L382.4,51.2 Z M384,64.5 L382.4,51.2 L395,53.9 Z" fill="#c1c32c" stroke="#c1c32c" stroke-width="0.25"/>
<path d="M384,64.5 L371.4,57 L382.4,51.2 L395,53.9 Z" class="e"/>
<g class="m"><circle cx="382.4" cy="51.2" r="1.2"/></g>
<path d="M373,70.7 L360.4,61.3 L371.4,57 Z M373,70.7 L371.4,57 L384,64.5 Z" fill="#a3c83e" stroke="#a3c83e" stroke-width="0.25"/>
<path d="M373,70.7 L360.4,61.3 L371.4,57 L384,64.5 Z" class="e"/>
<g class="m"><circle cx="371.4" cy="57" r="1.2"/></g>
<path d="M362.1,79.9 L349.5,66.4 L360.4,61.3 Z M362.1,79.9 L360.4,61.3 L373,70.7 Z" fill="#70cd65" stroke="#70cd65" stroke-width="0.25"/>
<path d="M362.1,79.9 L349.5,66.4 L360.4,61.3 L373,70.7 Z" class="e"/>
<g class="m"><circle cx="360.4" cy="61.3" r="1.2"/></g>
<path d="M351.1,81.9 L338.5,69.7 L349.5,66.4 Z M351.1,81.9 L349.5,66.4 L362.1,79.9 Z" fill="#6bcd69" stroke="#6bcd69" stroke-width="0.25"/>
<path d="M351.1,81.9 L338.5,69.7 L349.5,66.4 L362.1,79.9 Z" class="e"/>
<g class="m"><circle cx="349.5" cy="66.4" r="1.2"/></g>
<path d="M340.2,85.3 L327.6,71.7 L338.5,69.7 Z M340.2,85.3 L338.5,69.7 L351.1,81.9 Z" fill="#5ecc74" stroke="#5ecc74" stroke-width="0.25"/>
<path d="M340.2,85.3 L327.6,71.7 L338.5,69.7 L351.1,81.9 Z" class="e"/>
<g class="m"><circle cx="338.5" cy="69.7" r="1.2"/><circle cx="327.6" cy="71.7" r="1.2"/></g>
<path d="M440.4,56.8 L427.8,49.5 L438.8,43.5 Z M440.4,56.8 L438.8,43.5 L451.4,69.9 Z" fill="#d6be28" stroke="#d6be28" stroke-width="0.25"/>
<path d="M440.4,56.8 L427.8,49.5 L438.8,43.5 L451.4,69.9 Z" class="e"/>
<g class="m"><circle cx="438.8" cy="43.5" r="1.2"/></g>
<path d="M429.5,76.1 L416.9,27.3 L427.8,49.5 Z M429.5,76.1 L427.8,49.5 L440.4,56.8 Z" fill="#6acd6a" stroke="#6acd6a" stroke-width="0.25"/>
<path d="M429.5,76.1 L416.9,27.3 L427.8,49.5 L440.4,56.8 Z" class="e"/>
<g class="m"><circle cx="427.8" cy="49.5" r="1.2"/></g>
<path d="M418.5,75.8 L405.9,28.1 L416.9,27.3 Z M418.5,75.8 L416.9,27.3 L429.5,76.1 Z" fill="#73cd63" stroke="#73cd63" stroke-width="0.25"/>
<path d="M418.5,75.8 L405.9,28.1 L416.9,27.3 L429.5,76.1 Z" class="e"/>
<g class="m"><circle cx="416.9" cy="27.3" r="1.2"/></g>
<path d="M407.6,84.1 L395,53.9 L405.9,28.1 Z M407.6,84.1 L405.9,28.1 L418.5,75.8 Z" fill="#49cb85" stroke="#49cb85" stroke-width="0.25"/>
<path d="M407.6,84.1 L395,53.9 L405.9,28.1 L418.5,75.8 Z" class="e"/>
<g class="m"><circle cx="405.9" cy="28.1" r="1.2"/></g>
<path d="M396.6,90.2 L384,64.5 L395,53.9 Z M396.6,90.2 L395,53.9 L407.6,84.1 Z" fill="#36c799" stroke="#36c799" stroke-width="0.25"/>
<path d="M396.6,90.2 L384,64.5 L395,53.9 L407.6,84.1 Z" class="e"/>
<g class="m"><circle cx="395" cy="53.9" r="1.2"/></g>
<path d="M385.6,93.8 L373,70.7 L384,64.5 Z M385.6,93.8 L384,64.5 L396.6,90.2 Z" fill="#30c5a2" stroke="#30c5a2" stroke-width="0.25"/>
<path d="M385.6,93.8 L373,70.7 L384,64.5 L396.6,90.2 Z" class="e"/>
<g class="m"><circle cx="384" cy="64.5" r="1.2"/></g>
<path d="M374.7,93.9 L362.1,79.9 L373,70.7 Z M374.7,93.9 L373,70.7 L385.6,93.8 Z" fill="#32c69e" stroke="#32c69e" stroke-width="0.25"/>
<path d="M374.7,93.9 L362.1,79.9 L373,70.7 L385.6,93.8 Z" class="e"/>
<g class="m"><circle cx="373" cy="70.7" r="1.2"/></g>
<path d="M363.7,96.7 L351.1,81.9 L362.1,79.9 Z M363.7,96.7 L362.1,79.9 L374.7,93.9 Z" fill="#2ec5a4" stroke="#2ec5a4" stroke-width="0.25"/>
<path d="M363.7,96.7 L351.1,81.9 L362.1,79.9 L374.7,93.9 Z" class="e"/>
<g class="m"><circle cx="362.1" cy="79.9" r="1.2"/></g>
<path d="M352.8,98.5 L340.2,85.3 L351.1,81.9 Z M352.8,98.5 L351.1,81.9 L363.7,96.7 Z" fill="#2dc4a6" stroke="#2dc4a6" stroke-width="0.25"/>
<path d="M352.8,98.5 L340.2,85.3 L351.1,81.9 L363.7,96.7 Z" class="e"/>
<g class="m"><circle cx="351.1" cy="81.9" r="1.2"/><circle cx="340.2" cy="85.3" r="1.2"/></g>
<path d="M453,76.2 L440.4,56.8 L451.4,69.9 Z M453,76.2 L451.4,69.9 L464,85.6 Z" fill="#69cd6b" stroke="#69cd6b" stroke-width="0.25"/>
<path d="M453,76.2 L440.4,56.8 L451.4,69.9 L464,85.6 Z" class="e"/>
<g class="m"><circle cx="451.4" cy="69.9" r="1.2"/></g>
<path d="M442.1,92.9 L429.5,76.1 L440.4,56.8 Z M442.1,92.9 L440.4,56.8 L453,76.2 Z" fill="#28c2ab" stroke="#28c2ab" stroke-width="0.25"/>
<path d="M442.1,92.9 L429.5,76.1 L440.4,56.8 L453,76.2 Z" class="e"/>
<g class="m"><circle cx="440.4" cy="56.8" r="1.2"/></g>
<path d="M431.1,95.6 L418.5,75.8 L429.5,76.1 Z M431.1,95.6 L429.5,76.1 L442.1,92.9 Z" fill="#22c1b0" stroke="#22c1b0" stroke-width="0.25"/>
<path d="M431.1,95.6 L418.5,75.8 L429.5,76.1 L442.1,92.9 Z" class="e"/>
<g class="m"><circle cx="429.5" cy="76.1" r="1.2"/></g>
<path d="M420.2,100.2 L407.6,84.1 L418.5,75.8 Z M420.2,100.2 L418.5,75.8 L431.1,95.6 Z" fill="#0fbeba" stroke="#0fbeba" stroke-width="0.25"/>
<path d="M420.2,100.2 L407.6,84.1 L418.5,75.8 L431.1,95.6 Z" class="e"/>
<g class="m"><circle cx="418.5" cy="75.8" r="1.2"/></g>
<path d="M409.2,104.7 L396.6,90.2 L407.6,84.1 Z M409.2,104.7 L407.6,84.1 L420.2,100.2 Z" fill="#02bac4" stroke="#02bac4" stroke-width="0.25"/>
<path d="M409.2,104.7 L396.6,90.2 L407.6,84.1 L420.2,100.2 Z" class="e"/>
<g class="m"><circle cx="407.6" cy="84.1" r="1.2"/></g>
<path d="M398.2,106.6 L385.6,93.8 L396.6,90.2 Z M398.2,106.6 L396.6,90.2 L409.2,104.7 Z" fill="#01b9c6" stroke="#01b9c6" stroke-width="0.25"/>
<path d="M398.2,106.6 L385.6,93.8 L396.6,90.2 L409.2,104.7 Z" class="e"/>
<g class="m"><circle cx="396.6" cy="90.2" r="1.2"/></g>
<path d="M387.3,109.7 L374.7,93.9 L385.6,93.8 Z M387.3,109.7 L385.6,93.8 L398.2,106.6 Z" fill="#03b7cc" stroke="#03b7cc" stroke-width="0.25"/>
<path d="M387.3,109.7 L374.7,93.9 L385.6,93.8 L398.2,106.6 Z" class="e"/>
<g class="m"><circle cx="385.6" cy="93.8" r="1.2"/></g>
<path d="M376.3,110.9 L363.7,96.7 L374.7,93.9 Z M376.3,110.9 L374.7,93.9 L387.3,109.7 Z" fill="#03b7cc" stroke="#03b7cc" stroke-width="0.25"/>
<path d="M376.3,110.9 L363.7,96.7 L374.7,93.9 L387.3,109.7 Z" class="e"/>
<g class="m"><circle cx="374.7" cy="93.9" r="1.2"/></g>
<path d="M365.4,113.7 L352.8,98.5 L363.7,96.7 Z M365.4,113.7 L363.7,96.7 L376.3,110.9 Z" fill="#08b4d0" stroke="#08b4d0" stroke-width="0.25"/>
<path d="M365.4,113.7 L352.8,98.5 L363.7,96.7 L376.3,110.9 Z" class="e"/>
<g class="m"><circle cx="363.7" cy="96.7" r="1.2"/><circle cx="352.8" cy="98.5" r="1.2"/></g>
<path d="M465.6,96.1 L453,76.2 L464,85.6 Z M465.6,96.1 L464,85.6 L476.6,93.3 Z" fill="#19bfb5" stroke="#19bfb5" stroke-width="0.25"/>
<path d="M465.6,96.1 L453,76.2 L464,85.6 L476.6,93.3 Z" class="e"/>
<g class="m"><circle cx="464" cy="85.6" r="1.2"/></g>
<path d="M454.7,109 L442.1,92.9 L453,76.2 Z M454.7,109 L453,76.2 L465.6,96.1 Z" fill="#13b1d7" stroke="#13b1d7" stroke-width="0.25"/>
<path d="M454.7,109 L442.1,92.9 L453,76.2 L465.6,96.1 Z" class="e"/>
<g class="m"><circle cx="453" cy="76.2" r="1.2"/></g>
<path d="M443.7,106.5 L431.1,95.6 L442.1,92.9 Z M443.7,106.5 L442.1,92.9 L454.7,109 Z" fill="#04b6cd" stroke="#04b6cd" stroke-width="0.25"/>
<path d="M443.7,106.5 L431.1,95.6 L442.1,92.9 L454.7,109 Z" class="e"/>
<g class="m"><circle cx="442.1" cy="92.9" r="1.2"/></g>
<path d="M432.8,115.7 L420.2,100.2 L431.1,95.6 Z M432.8,115.7 L431.1,95.6 L443.7,106.5 Z" fill="#1da9e0" stroke="#1da9e0" stroke-width="0.25"/>
<path d="M432.8,115.7 L420.2,100.2 L431.1,95.6 L443.7,106.5 Z" class="e"/>
<g class="m"><circle cx="431.1" cy="95.6" r="1.2"/></g>
<path d="M421.8,118.7 L409.2,104.7 L420.2,100.2 Z M421.8,118.7 L420.2,100.2 L432.8,115.7 Z" fill="#1fa5e2" stroke="#1fa5e2" stroke-width="0.25"/>
<path d="M421.8,118.7 L409.2,104.7 L420.2,100.2 L432.8,115.7 Z" class="e"/>
<g class="m"><circle cx="420.2" cy="100.2" r="1.2"/></g>
<path d="M410.8,121.1 L398.2,106.6 L409.2,104.7 Z M410.8,121.1 L409.2,104.7 L421.8,118.7 Z" fill="#21a3e3" stroke="#21a3e3" stroke-width="0.25"/>
<path d="M410.8,121.1 L398.2,106.6 L409.2,104.7 L421.8,118.7 Z" class="e"/>
<g class="m"><circle cx="409.2" cy="104.7" r="1.2"/></g>
<path d="M399.9,121.9 L387.3,109.7 L398.2,106.6 Z M399.9,121.9 L398.2,106.6 L410.8,121.1 Z" fill="#21a4e3" stroke="#21a4e3" stroke-width="0.25"/>
<path d="M399.9,121.9 L387.3,109.7 L398.2,106.6 L410.8,121.1 Z" class="e"/>
<g class="m"><circle cx="398.2" cy="106.6" r="1.2"/></g>
<path d="M388.9,124.4 L376.3,110.9 L387.3,109.7 Z M388.9,124.4 L387.3,109.7 L399.9,121.9 Z" fill="#23a1e4" stroke="#23a1e4" stroke-width="0.25"/>
<path d="M388.9,124.4 L376.3,110.9 L387.3,109.7 L399.9,121.9 Z" class="e"/>
<g class="m"><circle cx="387.3" cy="109.7" r="1.2"/></g>
<path d="M378,127.4 L365.4,113.7 L376.3,110.9 Z M378,127.4 L376.3,110.9 L388.9,124.4 Z" fill="#249de6" stroke="#249de6" stroke-width="0.25"/>
<path d="M378,127.4 L365.4,113.7 L376.3,110.9 L388.9,124.4 Z" class="e"/>
<g class="m"><circle cx="376.3" cy="110.9" r="1.2"/><circle cx="365.4" cy="113.7" r="1.2"/></g>
<path d="M478.2,112.2 L465.6,96.1 L476.6,93.3 Z M478.2,112.2 L476.6,93.3 L489.2,116.6 Z" fill="#1babde" stroke="#1babde" stroke-width="0.25"/>
<path d="M478.2,112.2 L465.6,96.1 L476.6,93.3 L489.2,116.6 Z" class="e"/>
<g class="m"><circle cx="476.6" cy="93.3" r="1.2"/></g>
<path d="M467.3,117 L454.7,109 L465.6,96.1 Z M467.3,117 L465.6,96.1 L478.2,112.2 Z" fill="#20a4e3" stroke="#20a4e3" stroke-width="0.25"/>
<path d="M467.3,117 L454.7,109 L465.6,96.1 L478.2,112.2 Z" class="e"/>
<g class="m"><circle cx="465.6" cy="96.1" r="1.2"/></g>
<path d="M456.3,126.4 L443.7,106.5 L454.7,109 Z M456.3,126.4 L454.7,109 L467.3,117 Z" fill="#2a92ee" stroke="#2a92ee" stroke-width="0.25"/>
<path d="M456.3,126.4 L443.7,106.5 L454.7,109 L467.3,117 Z" class="e"/>
<g class="m"><circle cx="454.7" cy="109" r="1.2"/></g>
<path d="M445.4,131 L432.8,115.7 L443.7,106.5 Z M445.4,131 L443.7,106.5 L456.3,126.4 Z" fill="#2d8af4" stroke="#2d8af4" stroke-width="0.25"/>
<path d="M445.4,131 L432.8,115.7 L443.7,106.5 L456.3,126.4 Z" class="e"/>
<g class="m"><circle cx="443.7" cy="106.5" r="1.2"/></g>
<path d="M434.4,130.4 L421.8,118.7 L432.8,115.7 Z M434.4,130.4 L432.8,115.7 L445.4,131 Z" fill="#2c8ff1" stroke="#2c8ff1" stroke-width="0.25"/>
<path d="M434.4,130.4 L421.8,118.7 L432.8,115.7 L445.4,131 Z" class="e"/>
<g class="m"><circle cx="432.8" cy="115.7" r="1.2"/></g>
<path d="M423.4,135.6 L410.8,121.1 L421.8,118.7 Z M423.4,135.6 L421.8,118.7 L434.4,130.4 Z" fill="#2e85f8" stroke="#2e85f8" stroke-width="0.25"/>
<path d="M423.4,135.6 L410.8,121.1 L421.8,118.7 L434.4,130.4 Z" class="e"/>
<g class="m"><circle cx="421.8" cy="118.7" r="1.2"/></g>
<path d="M412.5,137.6 L399.9,121.9 L410.8,121.1 Z M412.5,137.6 L410.8,121.1 L423.4,135.6 Z" fill="#2e83f9" stroke="#2e83f9" stroke-width="0.25"/>
<path d="M412.5,137.6 L399.9,121.9 L410.8,121.1 L423.4,135.6 Z" class="e"/>
<g class="m"><circle cx="410.8" cy="121.1" r="1.2"/></g>
<path d="M401.5,139.5 L388.9,124.4 L399.9,121.9 Z M401.5,139.5 L399.9,121.9 L412.5,137.6 Z" fill="#2f81fa" stroke="#2f81fa" stroke-width="0.25"/>
<path d="M401.5,139.5 L388.9,124.4 L399.9,121.9 L412.5,137.6 Z" class="e"/>
<g class="m"><circle cx="399.9" cy="121.9" r="1.2"/></g>
<path d="M390.6,141.3 L378,127.4 L388.9,124.4 Z M390.6,141.3 L388.9,124.4 L401.5,139.5 Z" fill="#3080fb" stroke="#3080fb" stroke-width="0.25"/>
<path d="M390.6,141.3 L378,127.4 L388.9,124.4 L401.5,139.5 Z" class="e"/>
<g class="m"><circle cx="388.9" cy="124.4" r="1.2"/><circle cx="378" cy="127.4" r="1.2"/></g>
<path d="M490.8,135.4 L478.2,112.2 L489.2,116.6 Z M490.8,135.4 L489.2,116.6 L501.8,134 Z" fill="#3479fd" stroke="#3479fd" stroke-width="0.25"/>
<path d="M490.8,135.4 L478.2,112.2 L489.2,116.6 L501.8,134 Z" class="e"/>
<g class="m"><circle cx="489.2" cy="116.6" r="1.2"/></g>
<path d="M479.9,139 L467.3,117 L478.2,112.2 Z M479.9,139 L478.2,112.2 L490.8,135.4 Z" fill="#3b73fe" stroke="#3b73fe" stroke-width="0.25"/>
<path d="M479.9,139 L467.3,117 L478.2,112.2 L490.8,135.4 Z" class="e"/>
<g class="m"><circle cx="478.2" cy="112.2" r="1.2"/></g>
<path d="M468.9,131.4 L456.3,126.4 L467.3,117 Z M468.9,131.4 L467.3,117 L479.9,139 Z" fill="#2d89f5" stroke="#2d89f5" stroke-width="0.25"/>
<path d="M468.9,131.4 L456.3,126.4 L467.3,117 L479.9,139 Z" class="e"/>
<g class="m"><circle cx="467.3" cy="117" r="1.2"/></g>
<path d="M458,142.6 L445.4,131 L456.3,126.4 Z M458,142.6 L456.3,126.4 L468.9,131.4 Z" fill="#3e6fff" stroke="#3e6fff" stroke-width="0.25"/>
<path d="M458,142.6 L445.4,131 L456.3,126.4 L468.9,131.4 Z" class="e"/>
<g class="m"><circle cx="456.3" cy="126.4" r="1.2"/></g>
<path d="M447,141 L434.4,130.4 L445.4,131 Z M447,141 L445.4,131 L458,142.6 Z" fill="#3777fe" stroke="#3777fe" stroke-width="0.25"/>
<path d="M447,141 L434.4,130.4 L445.4,131 L458,142.6 Z" class="e"/>
<g class="m"><circle cx="445.4" cy="131" r="1.2"/></g>
<path d="M436,150.3 L423.4,135.6 L434.4,130.4 Z M436,150.3 L434.4,130.4 L447,141 Z" fill="#4561fc" stroke="#4561fc" stroke-width="0.25"/>
<path d="M436,150.3 L423.4,135.6 L434.4,130.4 L447,141 Z" class="e"/>
<g class="m"><circle cx="434.4" cy="130.4" r="1.2"/></g>
<path d="M425.1,151.1 L412.5,137.6 L423.4,135.6 Z M425.1,151.1 L423.4,135.6 L436,150.3 Z" fill="#4562fc" stroke="#4562fc" stroke-width="0.25"/>
<path d="M425.1,151.1 L412.5,137.6 L423.4,135.6 L436,150.3 Z" class="e"/>
<g class="m"><circle cx="423.4" cy="135.6" r="1.2"/></g>
<path d="M414.1,152.4 L401.5,139.5 L412.5,137.6 Z M414.1,152.4 L412.5,137.6 L425.1,151.1 Z" fill="#4562fc" stroke="#4562fc" stroke-width="0.25"/>
<path d="M414.1,152.4 L401.5,139.5 L412.5,137.6 L425.1,151.1 Z" class="e"/>
<g class="m"><circle cx="412.5" cy="137.6" r="1.2"/></g>
<path d="M403.2,154.8 L390.6,141.3 L401.5,139.5 Z M403.2,154.8 L401.5,139.5 L414.1,152.4 Z" fill="#465ffb" stroke="#465ffb" stroke-width="0.25"/>
<path d="M403.2,154.8 L390.6,141.3 L401.5,139.5 L414.1,152.4 Z" class="e"/>
<g class="m"><circle cx="401.5" cy="139.5" r="1.2"/><circle cx="390.6" cy="141.3" r="1.2"/></g>
<path d="M503.4,151 L490.8,135.4 L501.8,134 Z M503.4,151 L501.8,134 L514.4,147.6 Z" fill="#4854f5" stroke="#4854f5" stroke-width="0.25"/>
<path d="M503.4,151 L490.8,135.4 L501.8,134 L514.4,147.6 Z" class="e"/>
<g class="m"><circle cx="501.8" cy="134" r="1.2"/></g>
<path d="M492.5,157.4 L479.9,139 L490.8,135.4 Z M492.5,157.4 L490.8,135.4 L503.4,151 Z" fill="#4746eb" stroke="#4746eb" stroke-width="0.25"/>
<path d="M492.5,157.4 L479.9,139 L490.8,135.4 L503.4,151 Z" class="e"/>
<g class="m"><circle cx="490.8" cy="135.4" r="1.2"/></g>
<path d="M481.5,155 L468.9,131.4 L479.9,139 Z M481.5,155 L479.9,139 L492.5,157.4 Z" fill="#484ff2" stroke="#484ff2" stroke-width="0.25"/>
<path d="M481.5,155 L468.9,131.4 L479.9,139 L492.5,157.4 Z" class="e"/>
<g class="m"><circle cx="479.9" cy="139" r="1.2"/></g>
<path d="M470.6,159.6 L458,142.6 L468.9,131.4 Z M470.6,159.6 L468.9,131.4 L481.5,155 Z" fill="#4747eb" stroke="#4747eb" stroke-width="0.25"/>
<path d="M470.6,159.6 L458,142.6 L468.9,131.4 L481.5,155 Z" class="e"/>
<g class="m"><circle cx="468.9" cy="131.4" r="1.2"/></g>
<path d="M459.6,158.4 L447,141 L458,142.6 Z M459.6,158.4 L458,142.6 L470.6,159.6 Z" fill="#484df0" stroke="#484df0" stroke-width="0.25"/>
<path d="M459.6,158.4 L447,141 L458,142.6 L470.6,159.6 Z" class="e"/>
<g class="m"><circle cx="458" cy="142.6" r="1.2"/></g>
<path d="M448.6,163 L436,150.3 L447,141 Z M448.6,163 L447,141 L459.6,158.4 Z" fill="#4744e8" stroke="#4744e8" stroke-width="0.25"/>
<path d="M448.6,163 L436,150.3 L447,141 L459.6,158.4 Z" class="e"/>
<g class="m"><circle cx="447" cy="141" r="1.2"/></g>
<path d="M437.7,167 L425.1,151.1 L436,150.3 Z M437.7,167 L436,150.3 L448.6,163 Z" fill="#463de0" stroke="#463de0" stroke-width="0.25"/>
<path d="M437.7,167 L425.1,151.1 L436,150.3 L448.6,163 Z" class="e"/>
<g class="m"><circle cx="436" cy="150.3" r="1.2"/></g>
<path d="M426.7,166 L414.1,152.4 L425.1,151.1 Z M426.7,166 L425.1,151.1 L437.7,167 Z" fill="#4743e7" stroke="#4743e7" stroke-width="0.25"/>
<path d="M426.7,166 L414.1,152.4 L425.1,151.1 L437.7,167 Z" class="e"/>
<g class="m"><circle cx="425.1" cy="151.1" r="1.2"/></g>
<path d="M415.8,168.5 L403.2,154.8 L414.1,152.4 Z M415.8,168.5 L414.1,152.4 L426.7,166 Z" fill="#473fe3" stroke="#473fe3" stroke-width="0.25"/>
<path d="M415.8,168.5 L403.2,154.8 L414.1,152.4 L426.7,166 Z" class="e"/>
<g class="m"><circle cx="414.1" cy="152.4" r="1.2"/><circle cx="403.2" cy="154.8" r="1.2"/></g>
<path d="M516,170 L503.4,151 L514.4,147.6 Z M516,170 L514.4,147.6 L527,169.6 Z" fill="#402bb8" stroke="#402bb8" stroke-width="0.25"/>
<path d="M516,170 L503.4,151 L514.4,147.6 L527,169.6 Z" class="e"/>
<g class="m"><circle cx="514.4" cy="147.6" r="1.2"/><circle cx="527" cy="169.6" r="1.2"/></g>
<path d="M505.1,171.6 L492.5,157.4 L503.4,151 Z M505.1,171.6 L503.4,151 L516,170 Z" fill="#402bb6" stroke="#402bb6" stroke-width="0.25"/>
<path d="M505.1,171.6 L492.5,157.4 L503.4,151 L516,170 Z" class="e"/>
<g class="m"><circle cx="503.4" cy="151" r="1.2"/><circle cx="516" cy="170" r="1.2"/></g>
<path d="M494.1,174 L481.5,155 L492.5,157.4 Z M494.1,174 L492.5,157.4 L505.1,171.6 Z" fill="#3f29af" stroke="#3f29af" stroke-width="0.25"/>
<path d="M494.1,174 L481.5,155 L492.5,157.4 L505.1,171.6 Z" class="e"/>
<g class="m"><circle cx="492.5" cy="157.4" r="1.2"/><circle cx="505.1" cy="171.6" r="1.2"/></g>
<path d="M483.2,176 L470.6,159.6 L481.5,155 Z M483.2,176 L481.5,155 L494.1,174 Z" fill="#3e27ab" stroke="#3e27ab" stroke-width="0.25"/>
<path d="M483.2,176 L470.6,159.6 L481.5,155 L494.1,174 Z" class="e"/>
<g class="m"><circle cx="481.5" cy="155" r="1.2"/><circle cx="494.1" cy="174" r="1.2"/></g>
<path d="M472.2,176.6 L459.6,158.4 L470.6,159.6 Z M472.2,176.6 L470.6,159.6 L483.2,176 Z" fill="#3f28ae" stroke="#3f28ae" stroke-width="0.25"/>
<path d="M472.2,176.6 L459.6,158.4 L470.6,159.6 L483.2,176 Z" class="e"/>
<g class="m"><circle cx="470.6" cy="159.6" r="1.2"/><circle cx="483.2" cy="176" r="1.2"/></g>
<path d="M461.2,178 L448.6,163 L459.6,158.4 Z M461.2,178 L459.6,158.4 L472.2,176.6 Z" fill="#3f28ad" stroke="#3f28ad" stroke-width="0.25"/>
<path d="M461.2,178 L448.6,163 L459.6,158.4 L472.2,176.6 Z" class="e"/>
<g class="m"><circle cx="459.6" cy="158.4" r="1.2"/><circle cx="472.2" cy="176.6" r="1.2"/></g>
<path d="M450.3,180 L437.7,167 L448.6,163 Z M450.3,180 L448.6,163 L461.2,178 Z" fill="#3e26a9" stroke="#3e26a9" stroke-width="0.25"/>
<path d="M450.3,180 L437.7,167 L448.6,163 L461.2,178 Z" class="e"/>
<g class="m"><circle cx="448.6" cy="163" r="1.2"/><circle cx="461.2" cy="178" r="1.2"/></g>
<path d="M439.3,181 L426.7,166 L437.7,167 Z M439.3,181 L437.7,167 L450.3,180 Z" fill="#3e27aa" stroke="#3e27aa" stroke-width="0.25"/>
<path d="M439.3,181 L426.7,166 L437.7,167 L450.3,180 Z" class="e"/>
<g class="m"><circle cx="437.7" cy="167" r="1.2"/><circle cx="450.3" cy="180" r="1.2"/></g>
<path d="M428.4,182.4 L415.8,168.5 L426.7,166 Z M428.4,182.4 L426.7,166 L439.3,181 Z" fill="#3e26a8" stroke="#3e26a8" stroke-width="0.25"/>
<path d="M428.4,182.4 L415.8,168.5 L426.7,166 L439.3,181 Z" class="e"/>
<g class="m"><circle cx="426.7" cy="166" r="1.2"/><circle cx="415.8" cy="168.5" r="1.2"/><circle cx="439.3" cy="181" r="1.2"/><circle cx="428.4" cy="182.4" r="1.2"/></g>
</g>
<g id="pc">
<polygon points="122,432.3 29.3,410.4 164.8,396.5 257.5,418.4" fill="#f8f8f8"/>
<path d="M122,432.3 L257.5,418.4" class="g"/>
<path d="M257.5,418.4 L257.5,274.3" class="g"/>
<path d="M112.7,430.1 L248.2,416.2" class="g"/>
<path d="M248.2,416.2 L248.2,272.2" class="g"/>
<path d="M103.5,427.9 L239,414" class="g"/>
<path d="M239,414 L239,270" class="g"/>
<path d="M94.2,425.7 L229.7,411.8" class="g"/>
<path d="M229.7,411.8 L229.7,267.8" class="g"/>
<path d="M84.9,423.5 L220.4,409.6" class="g"/>
<path d="M220.4,409.6 L220.4,265.6" class="g"/>
<path d="M75.7,421.4 L211.2,407.5" class="g"/>
<path d="M211.2,407.5 L211.2,263.4" class="g"/>
<path d="M66.4,419.2 L201.9,405.3" class="g"/>
<path d="M201.9,405.3 L201.9,261.2" class="g"/>
<path d="M57.1,417 L192.6,403.1" class="g"/>
<path d="M192.6,403.1 L192.6,259" class="g"/>
<path d="M47.8,414.8 L183.3,400.9" class="g"/>
<path d="M183.3,400.9 L183.3,256.8" class="g"/>
<path d="M38.6,412.6 L174.1,398.7" class="g"/>
<path d="M174.1,398.7 L174.1,254.6" class="g"/>
<path d="M29.3,410.4 L164.8,396.5" class="g"/>
<path d="M164.8,396.5 L164.8,252.4" class="g"/>
<path d="M122,432.3 L29.3,410.4" class="g"/>
<path d="M29.3,410.4 L29.3,266.3" class="g"/>
<path d="M135.6,430.9 L42.9,409" class="g"/>
<path d="M42.9,409 L42.9,265" class="g"/>
<path d="M149.1,429.5 L56.4,407.6" class="g"/>
<path d="M56.4,407.6 L56.4,263.6" class="g"/>
<path d="M162.7,428.1 L70,406.2" class="g"/>
<path d="M70,406.2 L70,262.2" class="g"/>
<path d="M176.2,426.7 L83.5,404.8" class="g"/>
<path d="M83.5,404.8 L83.5,260.8" class="g"/>
<path d="M189.8,425.4 L97.1,403.5" class="g"/>
<path d="M97.1,403.5 L97.1,259.4" class="g"/>
<path d="M203.3,424 L110.6,402.1" class="g"/>
<path d="M110.6,402.1 L110.6,258" class="g"/>
<path d="M216.9,422.6 L124.2,400.7" class="g"/>
<path d="M124.2,400.7 L124.2,256.6" class="g"/>
<path d="M230.4,421.2 L137.7,399.3" class="g"/>
<path d="M137.7,399.3 L137.7,255.2" class="g"/>
<path d="M243.9,419.8 L151.2,397.9" class="g"/>
<path d="M151.2,397.9 L151.2,253.8" class="g"/>
<path d="M257.5,418.4 L164.8,396.5" class="g"/>
<path d="M164.8,396.5 L164.8,252.4" class="g"/>
<path d="M29.3,410.4 L164.8,396.5" class="g"/>
<path d="M257.5,418.4 L164.8,396.5" class="g"/>
<path d="M29.3,386.4 L164.8,372.5" class="g"/>
<path d="M257.5,394.4 L164.8,372.5" class="g"/>
<path d="M29.3,362.4 L164.8,348.5" class="g"/>
<path d="M257.5,370.4 L164.8,348.5" class="g"/>
<path d="M29.3,338.4 L164.8,324.5" class="g"/>
<path d="M257.5,346.4 L164.8,324.5" class="g"/>
<path d="M29.3,314.4 L164.8,300.5" class="g"/>
<path d="M257.5,322.4 L164.8,300.5" class="g"/>
<path d="M29.3,290.4 L164.8,276.5" class="g"/>
<path d="M257.5,298.4 L164.8,276.5" class="g"/>
<path d="M29.3,266.3 L164.8,252.4" class="g"/>
<path d="M257.5,274.3 L164.8,252.4" class="g"/>
<path d="M122,432.3 L29.3,410.4" class="a"/>
<path d="M122,432.3 L257.5,418.4" class="a"/>
<path d="M29.3,410.4 L29.3,266.3" class="a"/>
<path d="M112.7,430.1 L112.7,433.7" class="a"/>
<text x="113.2" y="444.5" font-size="7.1" text-anchor="end" >10</text>
<path d="M103.5,427.9 L103.5,431.5" class="a"/>
<text x="104" y="442.3" font-size="7.1" text-anchor="end" >20</text>
<path d="M94.2,425.7 L94.2,429.3" class="a"/>
<text x="94.7" y="440.1" font-size="7.1" text-anchor="end" >30</text>
<path d="M84.9,423.5 L84.9,427.1" class="a"/>
<text x="85.4" y="437.9" font-size="7.1" text-anchor="end" >40</text>
<path d="M75.7,421.4 L75.7,425" class="a"/>
<text x="76.2" y="435.8" font-size="7.1" text-anchor="end" >50</text>
<path d="M66.4,419.2 L66.4,422.8" class="a"/>
<text x="66.9" y="433.6" font-size="7.1" text-anchor="end" >60</text>
<path d="M57.1,417 L57.1,420.6" class="a"/>
<text x="57.6" y="431.4" font-size="7.1" text-anchor="end" >70</text>
<path d="M47.8,414.8 L47.8,418.4" class="a"/>
<text x="48.3" y="429.2" font-size="7.1" text-anchor="end" >80</text>
<path d="M38.6,412.6 L38.6,416.2" class="a"/>
<text x="39.1" y="427" font-size="7.1" text-anchor="end" >90</text>
<path d="M29.3,410.4 L29.3,414" class="a"/>
<text x="29.8" y="424.8" font-size="7.1" text-anchor="end" >100</text>
<path d="M135.6,430.9 L135.6,434.5" class="a"/>
<text x="135.7" y="444.4" font-size="7.1" text-anchor="start" >10</text>
<path d="M149.1,429.5 L149.1,433.1" class="a"/>
<text x="149.2" y="443" font-size="7.1" text-anchor="start" >15</text>
<path d="M162.7,428.1 L162.7,431.7" class="a"/>
<text x="162.8" y="441.6" font-size="7.1" text-anchor="start" >20</text>
<path d="M176.2,426.7 L176.2,430.3" class="a"/>
<text x="176.3" y="440.2" font-size="7.1" text-anchor="start" >25</text>
<path d="M189.8,425.4 L189.8,429" class="a"/>
<text x="189.8" y="438.9" font-size="7.1" text-anchor="start" >30</text>
<path d="M203.3,424 L203.3,427.6" class="a"/>
<text x="203.4" y="437.5" font-size="7.1" text-anchor="start" >35</text>
<path d="M216.9,422.6 L216.9,426.2" class="a"/>
<text x="217" y="436.1" font-size="7.1" text-anchor="start" >40</text>
<path d="M230.4,421.2 L230.4,424.8" class="a"/>
<text x="230.5" y="434.7" font-size="7.1" text-anchor="start" >45</text>
<path d="M243.9,419.8 L243.9,423.4" class="a"/>
<text x="244" y="433.3" font-size="7.1" text-anchor="start" >50</text>
<path d="M257.5,418.4 L257.5,422" class="a"/>
<text x="257.6" y="431.9" font-size="7.1" text-anchor="start" >55</text>
<path d="M29.3,410.4 L25.1,410.4" class="a"/>
<text x="22.3" y="412.9" font-size="7.1" text-anchor="end" >0</text>
<path d="M29.3,386.4 L25.1,386.4" class="a"/>
<text x="22.3" y="388.9" font-size="7.1" text-anchor="end" >0.7</text>
<path d="M29.3,362.4 L25.1,362.4" class="a"/>
<text x="22.3" y="364.9" font-size="7.1" text-anchor="end" >1.4</text>
<path d="M29.3,338.4 L25.1,338.4" class="a"/>
<text x="22.3" y="340.9" font-size="7.1" text-anchor="end" >2.1</text>
<path d="M29.3,314.4 L25.1,314.4" class="a"/>
<text x="22.3" y="316.9" font-size="7.1" text-anchor="end" >2.8</text>
<path d="M29.3,290.4 L25.1,290.4" class="a"/>
<text x="22.3" y="292.9" font-size="7.1" text-anchor="end" >3.5</text>
<path d="M29.3,266.3 L25.1,266.3" class="a"/>
<text x="22.3" y="268.8" font-size="7.1" text-anchor="end" >4.2</text>
<text x="8.9" y="338.5" font-size="7.6" text-anchor="middle" transform="rotate(-90 8.9 338.5)">Path length(m)</text>
<text x="41.2" y="448" font-size="7.6" text-anchor="middle" >Number of grids(m)</text>
<text x="189.5" y="452.4" font-size="7.6" text-anchor="middle" >Percentage of Obstacles(%)</text>
<path d="M160.5,310.3 L151.2,271.6 L164.8,304.3 Z M160.5,310.3 L164.8,304.3 L174.1,311.4 Z" fill="#9dc943" stroke="#9dc943" stroke-width="0.25"/>
<path d="M160.5,310.3 L151.2,271.6 L164.8,304.3 L174.1,311.4 Z" class="e"/>
<g class="m"><circle cx="164.8" cy="304.3" r="1.2"/></g>
<path d="M147,290.9 L137.7,314.5 L151.2,271.6 Z M147,290.9 L151.2,271.6 L160.5,310.3 Z" fill="#fec835" stroke="#fec835" stroke-width="0.25"/>
<path d="M147,290.9 L137.7,314.5 L151.2,271.6 L160.5,310.3 Z" class="e"/>
<g class="m"><circle cx="151.2" cy="271.6" r="1.2"/></g>
<path d="M133.4,342 L124.2,312.8 L137.7,314.5 Z M133.4,342 L137.7,314.5 L147,290.9 Z" fill="#01b7ca" stroke="#01b7ca" stroke-width="0.25"/>
<path d="M133.4,342 L124.2,312.8 L137.7,314.5 L147,290.9 Z" class="e"/>
<g class="m"><circle cx="137.7" cy="314.5" r="1.2"/></g>
<path d="M119.9,318.7 L110.6,303.1 L124.2,312.8 Z M119.9,318.7 L124.2,312.8 L133.4,342 Z" fill="#7dcc5b" stroke="#7dcc5b" stroke-width="0.25"/>
<path d="M119.9,318.7 L110.6,303.1 L124.2,312.8 L133.4,342 Z" class="e"/>
<g class="m"><circle cx="124.2" cy="312.8" r="1.2"/></g>
<path d="M106.3,326.4 L97.1,310.7 L110.6,303.1 Z M106.3,326.4 L110.6,303.1 L119.9,318.7 Z" fill="#50cc7f" stroke="#50cc7f" stroke-width="0.25"/>
<path d="M106.3,326.4 L97.1,310.7 L110.6,303.1 L119.9,318.7 Z" class="e"/>
<g class="m"><circle cx="110.6" cy="303.1" r="1.2"/></g>
<path d="M92.8,340.2 L83.5,315.3 L97.1,310.7 Z M92.8,340.2 L97.1,310.7 L106.3,326.4 Z" fill="#19bfb5" stroke="#19bfb5" stroke-width="0.25"/>
<path d="M92.8,340.2 L83.5,315.3 L97.1,310.7 L106.3,326.4 Z" class="e"/>
<g class="m"><circle cx="97.1" cy="310.7" r="1.2"/></g>
<path d="M79.2,318.8 L70,342.5 L83.5,315.3 Z M79.2,318.8 L83.5,315.3 L92.8,340.2 Z" fill="#9cc944" stroke="#9cc944" stroke-width="0.25"/>
<path d="M79.2,318.8 L70,342.5 L83.5,315.3 L92.8,340.2 Z" class="e"/>
<g class="m"><circle cx="83.5" cy="315.3" r="1.2"/></g>
<path d="M65.7,379.6 L56.4,378.5 L70,342.5 Z M65.7,379.6 L70,342.5 L79.2,318.8 Z" fill="#4269fe" stroke="#4269fe" stroke-width="0.25"/>
<path d="M65.7,379.6 L56.4,378.5 L70,342.5 L79.2,318.8 Z" class="e"/>
<g class="m"><circle cx="70" cy="342.5" r="1.2"/></g>
<path d="M52.1,353.1 L42.9,346.8 L56.4,378.5 Z M52.1,353.1 L56.4,378.5 L65.7,379.6 Z" fill="#0db3d3" stroke="#0db3d3" stroke-width="0.25"/>
<path d="M52.1,353.1 L42.9,346.8 L56.4,378.5 L65.7,379.6 Z" class="e"/>
<g class="m"><circle cx="56.4" cy="378.5" r="1.2"/><circle cx="42.9" cy="346.8" r="1.2"/></g>
<path d="M169.8,350.7 L160.5,310.3 L174.1,311.4 Z M169.8,350.7 L174.1,311.4 L183.3,353.7 Z" fill="#1fa5e2" stroke="#1fa5e2" stroke-width="0.25"/>
<path d="M169.8,350.7 L160.5,310.3 L174.1,311.4 L183.3,353.7 Z" class="e"/>
<g class="m"><circle cx="174.1" cy="311.4" r="1.2"/></g>
<path d="M156.2,333.5 L147,290.9 L160.5,310.3 Z M156.2,333.5 L160.5,310.3 L169.8,350.7 Z" fill="#2ac3a9" stroke="#2ac3a9" stroke-width="0.25"/>
<path d="M156.2,333.5 L147,290.9 L160.5,310.3 L169.8,350.7 Z" class="e"/>
<g class="m"><circle cx="160.5" cy="310.3" r="1.2"/></g>
<path d="M142.7,361.6 L133.4,342 L147,290.9 Z M142.7,361.6 L147,290.9 L156.2,333.5 Z" fill="#2b91ef" stroke="#2b91ef" stroke-width="0.25"/>
<path d="M142.7,361.6 L133.4,342 L147,290.9 L156.2,333.5 Z" class="e"/>
<g class="m"><circle cx="147" cy="290.9" r="1.2"/></g>
<path d="M129.1,361.7 L119.9,318.7 L133.4,342 Z M129.1,361.7 L133.4,342 L142.7,361.6 Z" fill="#2994ed" stroke="#2994ed" stroke-width="0.25"/>
<path d="M129.1,361.7 L119.9,318.7 L133.4,342 L142.7,361.6 Z" class="e"/>
<g class="m"><circle cx="133.4" cy="342" r="1.2"/></g>
<path d="M115.6,365.3 L106.3,326.4 L119.9,318.7 Z M115.6,365.3 L119.9,318.7 L129.1,361.7 Z" fill="#2c8ef1" stroke="#2c8ef1" stroke-width="0.25"/>
<path d="M115.6,365.3 L106.3,326.4 L119.9,318.7 L129.1,361.7 Z" class="e"/>
<g class="m"><circle cx="119.9" cy="318.7" r="1.2"/></g>
<path d="M102,355.9 L92.8,340.2 L106.3,326.4 Z M102,355.9 L106.3,326.4 L115.6,365.3 Z" fill="#1ca9df" stroke="#1ca9df" stroke-width="0.25"/>
<path d="M102,355.9 L92.8,340.2 L106.3,326.4 L115.6,365.3 Z" class="e"/>
<g class="m"><circle cx="106.3" cy="326.4" r="1.2"/></g>
<path d="M88.5,358.8 L79.2,318.8 L92.8,340.2 Z M88.5,358.8 L92.8,340.2 L102,355.9 Z" fill="#1fa6e2" stroke="#1fa6e2" stroke-width="0.25"/>
<path d="M88.5,358.8 L79.2,318.8 L92.8,340.2 L102,355.9 Z" class="e"/>
<g class="m"><circle cx="92.8" cy="340.2" r="1.2"/></g>
<path d="M74.9,365.7 L65.7,379.6 L79.2,318.8 Z M74.9,365.7 L79.2,318.8 L88.5,358.8 Z" fill="#2798ea" stroke="#2798ea" stroke-width="0.25"/>
<path d="M74.9,365.7 L65.7,379.6 L79.2,318.8 L88.5,358.8 Z" class="e"/>
<g class="m"><circle cx="79.2" cy="318.8" r="1.2"/></g>
<path d="M61.4,361.4 L52.1,353.1 L65.7,379.6 Z M61.4,361.4 L65.7,379.6 L74.9,365.7 Z" fill="#1fa6e2" stroke="#1fa6e2" stroke-width="0.25"/>
<path d="M61.4,361.4 L52.1,353.1 L65.7,379.6 L74.9,365.7 Z" class="e"/>
<g class="m"><circle cx="65.7" cy="379.6" r="1.2"/><circle cx="52.1" cy="353.1" r="1.2"/></g>
<path d="M179.1,351 L169.8,350.7 L183.3,353.7 Z M179.1,351 L183.3,353.7 L192.6,320.4 Z" fill="#1ca9df" stroke="#1ca9df" stroke-width="0.25"/>
<path d="M179.1,351 L169.8,350.7 L183.3,353.7 L192.6,320.4 Z" class="e"/>
<g class="m"><circle cx="183.3" cy="353.7" r="1.2"/></g>
<path d="M165.5,342 L156.2,333.5 L169.8,350.7 Z M165.5,342 L169.8,350.7 L179.1,351 Z" fill="#06bcc0" stroke="#06bcc0" stroke-width="0.25"/>
<path d="M165.5,342 L156.2,333.5 L169.8,350.7 L179.1,351 Z" class="e"/>
<g class="m"><circle cx="169.8" cy="350.7" r="1.2"/></g>
<path d="M152,329.5 L142.7,361.6 L156.2,333.5 Z M152,329.5 L156.2,333.5 L165.5,342 Z" fill="#47cb87" stroke="#47cb87" stroke-width="0.25"/>
<path d="M152,329.5 L142.7,361.6 L156.2,333.5 L165.5,342 Z" class="e"/>
<g class="m"><circle cx="156.2" cy="333.5" r="1.2"/></g>
<path d="M138.4,313.9 L129.1,361.7 L142.7,361.6 Z M138.4,313.9 L142.7,361.6 L152,329.5 Z" fill="#c0c32d" stroke="#c0c32d" stroke-width="0.25"/>
<path d="M138.4,313.9 L129.1,361.7 L142.7,361.6 L152,329.5 Z" class="e"/>
<g class="m"><circle cx="142.7" cy="361.6" r="1.2"/></g>
<path d="M124.9,345.3 L115.6,365.3 L129.1,361.7 Z M124.9,345.3 L129.1,361.7 L138.4,313.9 Z" fill="#0abdbd" stroke="#0abdbd" stroke-width="0.25"/>
<path d="M124.9,345.3 L115.6,365.3 L129.1,361.7 L138.4,313.9 Z" class="e"/>
<g class="m"><circle cx="129.1" cy="361.7" r="1.2"/></g>
<path d="M111.3,350.7 L102,355.9 L115.6,365.3 Z M111.3,350.7 L115.6,365.3 L124.9,345.3 Z" fill="#02b7cb" stroke="#02b7cb" stroke-width="0.25"/>
<path d="M111.3,350.7 L102,355.9 L115.6,365.3 L124.9,345.3 Z" class="e"/>
<g class="m"><circle cx="115.6" cy="365.3" r="1.2"/></g>
<path d="M97.8,327.4 L88.5,358.8 L102,355.9 Z M97.8,327.4 L102,355.9 L111.3,350.7 Z" fill="#7ccc5c" stroke="#7ccc5c" stroke-width="0.25"/>
<path d="M97.8,327.4 L88.5,358.8 L102,355.9 L111.3,350.7 Z" class="e"/>
<g class="m"><circle cx="102" cy="355.9" r="1.2"/></g>
<path d="M84.2,363.3 L74.9,365.7 L88.5,358.8 Z M84.2,363.3 L88.5,358.8 L97.8,327.4 Z" fill="#21a3e3" stroke="#21a3e3" stroke-width="0.25"/>
<path d="M84.2,363.3 L74.9,365.7 L88.5,358.8 L97.8,327.4 Z" class="e"/>
<g class="m"><circle cx="88.5" cy="358.8" r="1.2"/></g>
<path d="M70.7,399.9 L61.4,361.4 L74.9,365.7 Z M70.7,399.9 L74.9,365.7 L84.2,363.3 Z" fill="#463ee1" stroke="#463ee1" stroke-width="0.25"/>
<path d="M70.7,399.9 L61.4,361.4 L74.9,365.7 L84.2,363.3 Z" class="e"/>
<g class="m"><circle cx="74.9" cy="365.7" r="1.2"/><circle cx="61.4" cy="361.4" r="1.2"/></g>
<path d="M188.3,339.3 L179.1,351 L192.6,320.4 Z M188.3,339.3 L192.6,320.4 L201.9,345.4 Z" fill="#1cc0b3" stroke="#1cc0b3" stroke-width="0.25"/>
<path d="M188.3,339.3 L179.1,351 L192.6,320.4 L201.9,345.4 Z" class="e"/>
<g class="m"><circle cx="192.6" cy="320.4" r="1.2"/></g>
<path d="M174.8,359 L165.5,342 L179.1,351 Z M174.8,359 L179.1,351 L188.3,339.3 Z" fill="#249fe5" stroke="#249fe5" stroke-width="0.25"/>
<path d="M174.8,359 L165.5,342 L179.1,351 L188.3,339.3 Z" class="e"/>
<g class="m"><circle cx="179.1" cy="351" r="1.2"/></g>
<path d="M161.2,361.1 L152,329.5 L165.5,342 Z M161.2,361.1 L165.5,342 L174.8,359 Z" fill="#249de6" stroke="#249de6" stroke-width="0.25"/>
<path d="M161.2,361.1 L152,329.5 L165.5,342 L174.8,359 Z" class="e"/>
<g class="m"><circle cx="165.5" cy="342" r="1.2"/></g>
<path d="M147.7,323.1 L138.4,313.9 L152,329.5 Z M147.7,323.1 L152,329.5 L161.2,361.1 Z" fill="#8ecb4f" stroke="#8ecb4f" stroke-width="0.25"/>
<path d="M147.7,323.1 L138.4,313.9 L152,329.5 L161.2,361.1 Z" class="e"/>
<g class="m"><circle cx="152" cy="329.5" r="1.2"/></g>
<path d="M134.1,343.4 L124.9,345.3 L138.4,313.9 Z M134.1,343.4 L138.4,313.9 L147.7,323.1 Z" fill="#24c2ae" stroke="#24c2ae" stroke-width="0.25"/>
<path d="M134.1,343.4 L124.9,345.3 L138.4,313.9 L147.7,323.1 Z" class="e"/>
<g class="m"><circle cx="138.4" cy="313.9" r="1.2"/></g>
<path d="M120.6,354.1 L111.3,350.7 L124.9,345.3 Z M120.6,354.1 L124.9,345.3 L134.1,343.4 Z" fill="#06b5cf" stroke="#06b5cf" stroke-width="0.25"/>
<path d="M120.6,354.1 L111.3,350.7 L124.9,345.3 L134.1,343.4 Z" class="e"/>
<g class="m"><circle cx="124.9" cy="345.3" r="1.2"/></g>
<path d="M107,353 L97.8,327.4 L111.3,350.7 Z M107,353 L111.3,350.7 L120.6,354.1 Z" fill="#01b9c7" stroke="#01b9c7" stroke-width="0.25"/>
<path d="M107,353 L97.8,327.4 L111.3,350.7 L120.6,354.1 Z" class="e"/>
<g class="m"><circle cx="111.3" cy="350.7" r="1.2"/></g>
<path d="M93.5,352.4 L84.2,363.3 L97.8,327.4 Z M93.5,352.4 L97.8,327.4 L107,353 Z" fill="#07bcc0" stroke="#07bcc0" stroke-width="0.25"/>
<path d="M93.5,352.4 L84.2,363.3 L97.8,327.4 L107,353 Z" class="e"/>
<g class="m"><circle cx="97.8" cy="327.4" r="1.2"/></g>
<path d="M79.9,370.5 L70.7,399.9 L84.2,363.3 Z M79.9,370.5 L84.2,363.3 L93.5,352.4 Z" fill="#269be8" stroke="#269be8" stroke-width="0.25"/>
<path d="M79.9,370.5 L70.7,399.9 L84.2,363.3 L93.5,352.4 Z" class="e"/>
<g class="m"><circle cx="84.2" cy="363.3" r="1.2"/><circle cx="70.7" cy="399.9" r="1.2"/></g>
<path d="M197.6,371.6 L188.3,339.3 L201.9,345.4 Z M197.6,371.6 L201.9,345.4 L211.2,371 Z" fill="#307ffb" stroke="#307ffb" stroke-width="0.25"/>
<path d="M197.6,371.6 L188.3,339.3 L201.9,345.4 L211.2,371 Z" class="e"/>
<g class="m"><circle cx="201.9" cy="345.4" r="1.2"/></g>
<path d="M184.1,384.1 L174.8,359 L188.3,339.3 Z M184.1,384.1 L188.3,339.3 L197.6,371.6 Z" fill="#475dfa" stroke="#475dfa" stroke-width="0.25"/>
<path d="M184.1,384.1 L174.8,359 L188.3,339.3 L197.6,371.6 Z" class="e"/>
<g class="m"><circle cx="188.3" cy="339.3" r="1.2"/></g>
<path d="M170.5,353.3 L161.2,361.1 L174.8,359 Z M170.5,353.3 L174.8,359 L184.1,384.1 Z" fill="#0cb3d3" stroke="#0cb3d3" stroke-width="0.25"/>
<path d="M170.5,353.3 L161.2,361.1 L174.8,359 L184.1,384.1 Z" class="e"/>
<g class="m"><circle cx="174.8" cy="359" r="1.2"/></g>
<path d="M157,364.4 L147.7,323.1 L161.2,361.1 Z M157,364.4 L161.2,361.1 L170.5,353.3 Z" fill="#249ee6" stroke="#249ee6" stroke-width="0.25"/>
<path d="M157,364.4 L147.7,323.1 L161.2,361.1 L170.5,353.3 Z" class="e"/>
<g class="m"><circle cx="161.2" cy="361.1" r="1.2"/></g>
<path d="M143.4,357.7 L134.1,343.4 L147.7,323.1 Z M143.4,357.7 L147.7,323.1 L157,364.4 Z" fill="#13b0d7" stroke="#13b0d7" stroke-width="0.25"/>
<path d="M143.4,357.7 L134.1,343.4 L147.7,323.1 L157,364.4 Z" class="e"/>
<g class="m"><circle cx="147.7" cy="323.1" r="1.2"/></g>
<path d="M129.9,370.1 L120.6,354.1 L134.1,343.4 Z M129.9,370.1 L134.1,343.4 L143.4,357.7 Z" fill="#2797eb" stroke="#2797eb" stroke-width="0.25"/>
<path d="M129.9,370.1 L120.6,354.1 L134.1,343.4 L143.4,357.7 Z" class="e"/>
<g class="m"><circle cx="134.1" cy="343.4" r="1.2"/></g>
<path d="M116.3,372.6 L107,353 L120.6,354.1 Z M116.3,372.6 L120.6,354.1 L129.9,370.1 Z" fill="#2994ed" stroke="#2994ed" stroke-width="0.25"/>
<path d="M116.3,372.6 L107,353 L120.6,354.1 L129.9,370.1 Z" class="e"/>
<g class="m"><circle cx="120.6" cy="354.1" r="1.2"/></g>
<path d="M102.8,380.3 L93.5,352.4 L107,353 Z M102.8,380.3 L107,353 L116.3,372.6 Z" fill="#2f82f9" stroke="#2f82f9" stroke-width="0.25"/>
<path d="M102.8,380.3 L93.5,352.4 L107,353 L116.3,372.6 Z" class="e"/>
<g class="m"><circle cx="107" cy="353" r="1.2"/></g>
<path d="M89.2,387.3 L79.9,370.5 L93.5,352.4 Z M89.2,387.3 L93.5,352.4 L102.8,380.3 Z" fill="#3d71ff" stroke="#3d71ff" stroke-width="0.25"/>
<path d="M89.2,387.3 L79.9,370.5 L93.5,352.4 L102.8,380.3 Z" class="e"/>
<g class="m"><circle cx="93.5" cy="352.4" r="1.2"/><circle cx="79.9" cy="370.5" r="1.2"/></g>
<path d="M206.9,377.7 L197.6,371.6 L211.2,371 Z M206.9,377.7 L211.2,371 L220.4,360 Z" fill="#3b73fe" stroke="#3b73fe" stroke-width="0.25"/>
<path d="M206.9,377.7 L197.6,371.6 L211.2,371 L220.4,360 Z" class="e"/>
<g class="m"><circle cx="211.2" cy="371" r="1.2"/></g>
<path d="M193.3,350.8 L184.1,384.1 L197.6,371.6 Z M193.3,350.8 L197.6,371.6 L206.9,377.7 Z" fill="#01b9c8" stroke="#01b9c8" stroke-width="0.25"/>
<path d="M193.3,350.8 L184.1,384.1 L197.6,371.6 L206.9,377.7 Z" class="e"/>
<g class="m"><circle cx="197.6" cy="371.6" r="1.2"/></g>
<path d="M179.8,367.6 L170.5,353.3 L184.1,384.1 Z M179.8,367.6 L184.1,384.1 L193.3,350.8 Z" fill="#2798ea" stroke="#2798ea" stroke-width="0.25"/>
<path d="M179.8,367.6 L170.5,353.3 L184.1,384.1 L193.3,350.8 Z" class="e"/>
<g class="m"><circle cx="184.1" cy="384.1" r="1.2"/></g>
<path d="M166.2,373.6 L157,364.4 L170.5,353.3 Z M166.2,373.6 L170.5,353.3 L179.8,367.6 Z" fill="#2d8cf3" stroke="#2d8cf3" stroke-width="0.25"/>
<path d="M166.2,373.6 L157,364.4 L170.5,353.3 L179.8,367.6 Z" class="e"/>
<g class="m"><circle cx="170.5" cy="353.3" r="1.2"/></g>
<path d="M152.7,375.4 L143.4,357.7 L157,364.4 Z M152.7,375.4 L157,364.4 L166.2,373.6 Z" fill="#2d8af4" stroke="#2d8af4" stroke-width="0.25"/>
<path d="M152.7,375.4 L143.4,357.7 L157,364.4 L166.2,373.6 Z" class="e"/>
<g class="m"><circle cx="157" cy="364.4" r="1.2"/></g>
<path d="M139.1,384.2 L129.9,370.1 L143.4,357.7 Z M139.1,384.2 L143.4,357.7 L152.7,375.4 Z" fill="#3974fe" stroke="#3974fe" stroke-width="0.25"/>
<path d="M139.1,384.2 L129.9,370.1 L143.4,357.7 L152.7,375.4 Z" class="e"/>
<g class="m"><circle cx="143.4" cy="357.7" r="1.2"/></g>
<path d="M125.6,371.1 L116.3,372.6 L129.9,370.1 Z M125.6,371.1 L129.9,370.1 L139.1,384.2 Z" fill="#249de7" stroke="#249de7" stroke-width="0.25"/>
<path d="M125.6,371.1 L116.3,372.6 L129.9,370.1 L139.1,384.2 Z" class="e"/>
<g class="m"><circle cx="129.9" cy="370.1" r="1.2"/></g>
<path d="M112,385.8 L102.8,380.3 L116.3,372.6 Z M112,385.8 L116.3,372.6 L125.6,371.1 Z" fill="#3678fd" stroke="#3678fd" stroke-width="0.25"/>
<path d="M112,385.8 L102.8,380.3 L116.3,372.6 L125.6,371.1 Z" class="e"/>
<g class="m"><circle cx="116.3" cy="372.6" r="1.2"/></g>
<path d="M98.5,409.1 L89.2,387.3 L102.8,380.3 Z M98.5,409.1 L102.8,380.3 L112,385.8 Z" fill="#4537d5" stroke="#4537d5" stroke-width="0.25"/>
<path d="M98.5,409.1 L89.2,387.3 L102.8,380.3 L112,385.8 Z" class="e"/>
<g class="m"><circle cx="102.8" cy="380.3" r="1.2"/><circle cx="89.2" cy="387.3" r="1.2"/></g>
<path d="M216.1,385.6 L206.9,377.7 L220.4,360 Z M216.1,385.6 L220.4,360 L229.7,366.1 Z" fill="#4561fc" stroke="#4561fc" stroke-width="0.25"/>
<path d="M216.1,385.6 L206.9,377.7 L220.4,360 L229.7,366.1 Z" class="e"/>
<g class="m"><circle cx="220.4" cy="360" r="1.2"/></g>
<path d="M202.6,373.5 L193.3,350.8 L206.9,377.7 Z M202.6,373.5 L206.9,377.7 L216.1,385.6 Z" fill="#2d8af4" stroke="#2d8af4" stroke-width="0.25"/>
<path d="M202.6,373.5 L193.3,350.8 L206.9,377.7 L216.1,385.6 Z" class="e"/>
<g class="m"><circle cx="206.9" cy="377.7" r="1.2"/></g>
<path d="M189,388.1 L179.8,367.6 L193.3,350.8 Z M189,388.1 L193.3,350.8 L202.6,373.5 Z" fill="#4562fc" stroke="#4562fc" stroke-width="0.25"/>
<path d="M189,388.1 L179.8,367.6 L193.3,350.8 L202.6,373.5 Z" class="e"/>
<g class="m"><circle cx="193.3" cy="350.8" r="1.2"/></g>
<path d="M175.5,380 L166.2,373.6 L179.8,367.6 Z M175.5,380 L179.8,367.6 L189,388.1 Z" fill="#3080fb" stroke="#3080fb" stroke-width="0.25"/>
<path d="M175.5,380 L166.2,373.6 L179.8,367.6 L189,388.1 Z" class="e"/>
<g class="m"><circle cx="179.8" cy="367.6" r="1.2"/></g>
<path d="M161.9,372.8 L152.7,375.4 L166.2,373.6 Z M161.9,372.8 L166.2,373.6 L175.5,380 Z" fill="#2797ea" stroke="#2797ea" stroke-width="0.25"/>
<path d="M161.9,372.8 L152.7,375.4 L166.2,373.6 L175.5,380 Z" class="e"/>
<g class="m"><circle cx="166.2" cy="373.6" r="1.2"/></g>
<path d="M148.4,389.3 L139.1,384.2 L152.7,375.4 Z M148.4,389.3 L152.7,375.4 L161.9,372.8 Z" fill="#416bfe" stroke="#416bfe" stroke-width="0.25"/>
<path d="M148.4,389.3 L139.1,384.2 L152.7,375.4 L161.9,372.8 Z" class="e"/>
<g class="m"><circle cx="152.7" cy="375.4" r="1.2"/></g>
<path d="M134.8,386.7 L125.6,371.1 L139.1,384.2 Z M134.8,386.7 L139.1,384.2 L148.4,389.3 Z" fill="#3678fe" stroke="#3678fe" stroke-width="0.25"/>
<path d="M134.8,386.7 L125.6,371.1 L139.1,384.2 L148.4,389.3 Z" class="e"/>
<g class="m"><circle cx="139.1" cy="384.2" r="1.2"/></g>
<path d="M121.3,393.6 L112,385.8 L125.6,371.1 Z M121.3,393.6 L125.6,371.1 L134.8,386.7 Z" fill="#4466fd" stroke="#4466fd" stroke-width="0.25"/>
<path d="M121.3,393.6 L112,385.8 L125.6,371.1 L134.8,386.7 Z" class="e"/>
<g class="m"><circle cx="125.6" cy="371.1" r="1.2"/></g>
<path d="M107.7,407.6 L98.5,409.1 L112,385.8 Z M107.7,407.6 L112,385.8 L121.3,393.6 Z" fill="#4741e5" stroke="#4741e5" stroke-width="0.25"/>
<path d="M107.7,407.6 L98.5,409.1 L112,385.8 L121.3,393.6 Z" class="e"/>
<g class="m"><circle cx="112" cy="385.8" r="1.2"/><circle cx="98.5" cy="409.1" r="1.2"/></g>
<path d="M225.4,386.9 L216.1,385.6 L229.7,366.1 Z M225.4,386.9 L229.7,366.1 L239,398 Z" fill="#4564fd" stroke="#4564fd" stroke-width="0.25"/>
<path d="M225.4,386.9 L216.1,385.6 L229.7,366.1 L239,398 Z" class="e"/>
<g class="m"><circle cx="229.7" cy="366.1" r="1.2"/></g>
<path d="M211.9,401.7 L202.6,373.5 L216.1,385.6 Z M211.9,401.7 L216.1,385.6 L225.4,386.9 Z" fill="#463cdf" stroke="#463cdf" stroke-width="0.25"/>
<path d="M211.9,401.7 L202.6,373.5 L216.1,385.6 L225.4,386.9 Z" class="e"/>
<g class="m"><circle cx="216.1" cy="385.6" r="1.2"/></g>
<path d="M198.3,402.1 L189,388.1 L202.6,373.5 Z M198.3,402.1 L202.6,373.5 L211.9,401.7 Z" fill="#473fe2" stroke="#473fe2" stroke-width="0.25"/>
<path d="M198.3,402.1 L189,388.1 L202.6,373.5 L211.9,401.7 Z" class="e"/>
<g class="m"><circle cx="202.6" cy="373.5" r="1.2"/></g>
<path d="M184.8,391.4 L175.5,380 L189,388.1 Z M184.8,391.4 L189,388.1 L198.3,402.1 Z" fill="#4563fc" stroke="#4563fc" stroke-width="0.25"/>
<path d="M184.8,391.4 L175.5,380 L189,388.1 L198.3,402.1 Z" class="e"/>
<g class="m"><circle cx="189" cy="388.1" r="1.2"/></g>
<path d="M171.2,402 L161.9,372.8 L175.5,380 Z M171.2,402 L175.5,380 L184.8,391.4 Z" fill="#4848ec" stroke="#4848ec" stroke-width="0.25"/>
<path d="M171.2,402 L161.9,372.8 L175.5,380 L184.8,391.4 Z" class="e"/>
<g class="m"><circle cx="175.5" cy="380" r="1.2"/></g>
<path d="M157.7,387.1 L148.4,389.3 L161.9,372.8 Z M157.7,387.1 L161.9,372.8 L171.2,402 Z" fill="#3579fd" stroke="#3579fd" stroke-width="0.25"/>
<path d="M157.7,387.1 L148.4,389.3 L161.9,372.8 L171.2,402 Z" class="e"/>
<g class="m"><circle cx="161.9" cy="372.8" r="1.2"/></g>
<path d="M144.1,417.3 L134.8,386.7 L148.4,389.3 Z M144.1,417.3 L148.4,389.3 L157.7,387.1 Z" fill="#3f29af" stroke="#3f29af" stroke-width="0.25"/>
<path d="M144.1,417.3 L134.8,386.7 L148.4,389.3 L157.7,387.1 Z" class="e"/>
<g class="m"><circle cx="148.4" cy="389.3" r="1.2"/></g>
<path d="M130.6,390.7 L121.3,393.6 L134.8,386.7 Z M130.6,390.7 L134.8,386.7 L144.1,417.3 Z" fill="#3776fe" stroke="#3776fe" stroke-width="0.25"/>
<path d="M130.6,390.7 L121.3,393.6 L134.8,386.7 L144.1,417.3 Z" class="e"/>
<g class="m"><circle cx="134.8" cy="386.7" r="1.2"/></g>
<path d="M117,409.3 L107.7,407.6 L121.3,393.6 Z M117,409.3 L121.3,393.6 L130.6,390.7 Z" fill="#4742e6" stroke="#4742e6" stroke-width="0.25"/>
<path d="M117,409.3 L107.7,407.6 L121.3,393.6 L130.6,390.7 Z" class="e"/>
<g class="m"><circle cx="121.3" cy="393.6" r="1.2"/><circle cx="107.7" cy="407.6" r="1.2"/></g>
<path d="M234.7,401.4 L225.4,386.9 L239,398 Z M234.7,401.4 L239,398 L248.2,403.7 Z" fill="#473fe3" stroke="#473fe3" stroke-width="0.25"/>
<path d="M234.7,401.4 L225.4,386.9 L239,398 L248.2,403.7 Z" class="e"/>
<g class="m"><circle cx="239" cy="398" r="1.2"/><circle cx="248.2" cy="403.7" r="1.2"/></g>
<path d="M221.1,408.8 L211.9,401.7 L225.4,386.9 Z M221.1,408.8 L225.4,386.9 L234.7,401.4 Z" fill="#4331c6" stroke="#4331c6" stroke-width="0.25"/>
<path d="M221.1,408.8 L211.9,401.7 L225.4,386.9 L234.7,401.4 Z" class="e"/>
<g class="m"><circle cx="225.4" cy="386.9" r="1.2"/><circle cx="234.7" cy="401.4" r="1.2"/></g>
<path d="M207.6,414.1 L198.3,402.1 L211.9,401.7 Z M207.6,414.1 L211.9,401.7 L221.1,408.8 Z" fill="#3f28ae" stroke="#3f28ae" stroke-width="0.25"/>
<path d="M207.6,414.1 L198.3,402.1 L211.9,401.7 L221.1,408.8 Z" class="e"/>
<g class="m"><circle cx="211.9" cy="401.7" r="1.2"/><circle cx="221.1" cy="408.8" r="1.2"/></g>
<path d="M194,415.7 L184.8,391.4 L198.3,402.1 Z M194,415.7 L198.3,402.1 L207.6,414.1 Z" fill="#3f28ad" stroke="#3f28ad" stroke-width="0.25"/>
<path d="M194,415.7 L184.8,391.4 L198.3,402.1 L207.6,414.1 Z" class="e"/>
<g class="m"><circle cx="198.3" cy="402.1" r="1.2"/><circle cx="207.6" cy="414.1" r="1.2"/></g>
<path d="M180.5,410.8 L171.2,402 L184.8,391.4 Z M180.5,410.8 L184.8,391.4 L194,415.7 Z" fill="#4435d2" stroke="#4435d2" stroke-width="0.25"/>
<path d="M180.5,410.8 L171.2,402 L184.8,391.4 L194,415.7 Z" class="e"/>
<g class="m"><circle cx="184.8" cy="391.4" r="1.2"/><circle cx="194" cy="415.7" r="1.2"/></g>
<path d="M166.9,419.1 L157.7,387.1 L171.2,402 Z M166.9,419.1 L171.2,402 L180.5,410.8 Z" fill="#3e27a9" stroke="#3e27a9" stroke-width="0.25"/>
<path d="M166.9,419.1 L157.7,387.1 L171.2,402 L180.5,410.8 Z" class="e"/>
<g class="m"><circle cx="171.2" cy="402" r="1.2"/><circle cx="180.5" cy="410.8" r="1.2"/></g>
<path d="M153.4,416.2 L144.1,417.3 L157.7,387.1 Z M153.4,416.2 L157.7,387.1 L166.9,419.1 Z" fill="#4230c3" stroke="#4230c3" stroke-width="0.25"/>
<path d="M153.4,416.2 L144.1,417.3 L157.7,387.1 L166.9,419.1 Z" class="e"/>
<g class="m"><circle cx="157.7" cy="387.1" r="1.2"/><circle cx="166.9" cy="419.1" r="1.2"/></g>
<path d="M139.8,422 L130.6,390.7 L144.1,417.3 Z M139.8,422 L144.1,417.3 L153.4,416.2 Z" fill="#3e26a8" stroke="#3e26a8" stroke-width="0.25"/>
<path d="M139.8,422 L130.6,390.7 L144.1,417.3 L153.4,416.2 Z" class="e"/>
<g class="m"><circle cx="144.1" cy="417.3" r="1.2"/><circle cx="153.4" cy="416.2" r="1.2"/></g>
<path d="M126.3,411.8 L117,409.3 L130.6,390.7 Z M126.3,411.8 L130.6,390.7 L139.8,422 Z" fill="#4741e5" stroke="#4741e5" stroke-width="0.25"/>
<path d="M126.3,411.8 L117,409.3 L130.6,390.7 L139.8,422 Z" class="e"/>
<g class="m"><circle cx="130.6" cy="390.7" r="1.2"/><circle cx="117" cy="409.3" r="1.2"/><circle cx="139.8" cy="422" r="1.2"/><circle cx="126.3" cy="411.8" r="1.2"/></g>
</g>
<g id="pd">
<polygon points="441.3,405.7 542.6,422.4 409.6,434 308.3,417.3" fill="#f8f8f8"/>
<path d="M441.3,405.7 L308.3,417.3" class="g"/>
<path d="M441.3,405.7 L441.3,251.5" class="g"/>
<path d="M451.4,407.4 L318.4,419" class="g"/>
<path d="M451.4,407.4 L451.4,253.2" class="g"/>
<path d="M461.6,409 L328.6,420.6" class="g"/>
<path d="M461.6,409 L461.6,254.8" class="g"/>
<path d="M471.7,410.7 L338.7,422.3" class="g"/>
<path d="M471.7,410.7 L471.7,256.5" class="g"/>
<path d="M481.8,412.4 L348.8,424" class="g"/>
<path d="M481.8,412.4 L481.8,258.2" class="g"/>
<path d="M492,414.1 L359,425.7" class="g"/>
<path d="M492,414.1 L492,259.9" class="g"/>
<path d="M502.1,415.7 L369.1,427.3" class="g"/>
<path d="M502.1,415.7 L502.1,261.5" class="g"/>
<path d="M512.2,417.4 L379.2,429" class="g"/>
<path d="M512.2,417.4 L512.2,263.2" class="g"/>
<path d="M522.3,419.1 L389.3,430.7" class="g"/>
<path d="M522.3,419.1 L522.3,264.9" class="g"/>
<path d="M532.5,420.7 L399.5,432.3" class="g"/>
<path d="M532.5,420.7 L532.5,266.5" class="g"/>
<path d="M542.6,422.4 L409.6,434" class="g"/>
<path d="M542.6,422.4 L542.6,268.2" class="g"/>
<path d="M441.3,405.7 L542.6,422.4" class="g"/>
<path d="M441.3,405.7 L441.3,251.5" class="g"/>
<path d="M428,406.9 L529.3,423.6" class="g"/>
<path d="M428,406.9 L428,252.7" class="g"/>
<path d="M414.7,408 L516,424.7" class="g"/>
<path d="M414.7,408 L414.7,253.8" class="g"/>
<path d="M401.4,409.2 L502.7,425.9" class="g"/>
<path d="M401.4,409.2 L401.4,255" class="g"/>
<path d="M388.1,410.3 L489.4,427" class="g"/>
<path d="M388.1,410.3 L388.1,256.1" class="g"/>
<path d="M374.8,411.5 L476.1,428.2" class="g"/>
<path d="M374.8,411.5 L374.8,257.3" class="g"/>
<path d="M361.5,412.7 L462.8,429.4" class="g"/>
<path d="M361.5,412.7 L361.5,258.5" class="g"/>
<path d="M348.2,413.8 L449.5,430.5" class="g"/>
<path d="M348.2,413.8 L348.2,259.6" class="g"/>
<path d="M334.9,415 L436.2,431.7" class="g"/>
<path d="M334.9,415 L334.9,260.8" class="g"/>
<path d="M321.6,416.1 L422.9,432.8" class="g"/>
<path d="M321.6,416.1 L321.6,261.9" class="g"/>
<path d="M308.3,417.3 L409.6,434" class="g"/>
<path d="M308.3,417.3 L308.3,263.1" class="g"/>
<path d="M441.3,405.7 L308.3,417.3" class="g"/>
<path d="M441.3,405.7 L542.6,422.4" class="g"/>
<path d="M441.3,380 L308.3,391.6" class="g"/>
<path d="M441.3,380 L542.6,396.7" class="g"/>
<path d="M441.3,354.3 L308.3,365.9" class="g"/>
<path d="M441.3,354.3 L542.6,371" class="g"/>
<path d="M441.3,328.6 L308.3,340.2" class="g"/>
<path d="M441.3,328.6 L542.6,345.3" class="g"/>
<path d="M441.3,302.9 L308.3,314.5" class="g"/>
<path d="M441.3,302.9 L542.6,319.6" class="g"/>
<path d="M441.3,277.2 L308.3,288.8" class="g"/>
<path d="M441.3,277.2 L542.6,293.9" class="g"/>
<path d="M441.3,251.5 L308.3,263.1" class="g"/>
<path d="M441.3,251.5 L542.6,268.2" class="g"/>
<path d="M308.3,417.3 L409.6,434" class="a"/>
<path d="M542.6,422.4 L409.6,434" class="a"/>
<path d="M308.3,417.3 L308.3,263.1" class="a"/>
<path d="M318.4,419 L318.4,422.6" class="a"/>
<text x="318.2" y="433.6" font-size="7.1" text-anchor="end" >10</text>
<path d="M328.6,420.6 L328.6,424.2" class="a"/>
<text x="328.4" y="435.2" font-size="7.1" text-anchor="end" >20</text>
<path d="M338.7,422.3 L338.7,425.9" class="a"/>
<text x="338.5" y="436.9" font-size="7.1" text-anchor="end" >30</text>
<path d="M348.8,424 L348.8,427.6" class="a"/>
<text x="348.6" y="438.6" font-size="7.1" text-anchor="end" >40</text>
<path d="M359,425.7 L359,429.3" class="a"/>
<text x="358.8" y="440.3" font-size="7.1" text-anchor="end" >50</text>
<path d="M369.1,427.3 L369.1,430.9" class="a"/>
<text x="368.9" y="441.9" font-size="7.1" text-anchor="end" >60</text>
<path d="M379.2,429 L379.2,432.6" class="a"/>
<text x="379" y="443.6" font-size="7.1" text-anchor="end" >70</text>
<path d="M389.3,430.7 L389.3,434.3" class="a"/>
<text x="389.1" y="445.3" font-size="7.1" text-anchor="end" >80</text>
<path d="M399.5,432.3 L399.5,435.9" class="a"/>
<text x="399.3" y="446.9" font-size="7.1" text-anchor="end" >90</text>
<path d="M409.6,434 L409.6,437.6" class="a"/>
<text x="409.4" y="448.6" font-size="7.1" text-anchor="end" >100</text>
<path d="M529.3,423.6 L529.3,427.2" class="a"/>
<text x="529.6" y="437.1" font-size="7.1" text-anchor="start" >10</text>
<path d="M516,424.7 L516,428.3" class="a"/>
<text x="516.3" y="438.2" font-size="7.1" text-anchor="start" >15</text>
<path d="M502.7,425.9 L502.7,429.5" class="a"/>
<text x="503" y="439.4" font-size="7.1" text-anchor="start" >20</text>
<path d="M489.4,427 L489.4,430.6" class="a"/>
<text x="489.7" y="440.5" font-size="7.1" text-anchor="start" >25</text>
<path d="M476.1,428.2 L476.1,431.8" class="a"/>
<text x="476.4" y="441.7" font-size="7.1" text-anchor="start" >30</text>
<path d="M462.8,429.4 L462.8,433" class="a"/>
<text x="463.1" y="442.9" font-size="7.1" text-anchor="start" >35</text>
<path d="M449.5,430.5 L449.5,434.1" class="a"/>
<text x="449.8" y="444" font-size="7.1" text-anchor="start" >40</text>
<path d="M436.2,431.7 L436.2,435.3" class="a"/>
<text x="436.5" y="445.2" font-size="7.1" text-anchor="start" >45</text>
<path d="M422.9,432.8 L422.9,436.4" class="a"/>
<text x="423.2" y="446.3" font-size="7.1" text-anchor="start" >50</text>
<path d="M409.6,434 L409.6,437.6" class="a"/>
<text x="409.9" y="447.5" font-size="7.1" text-anchor="start" >55</text>
<path d="M308.3,417.3 L304.1,417.3" class="a"/>
<text x="300.5" y="419.8" font-size="7.1" text-anchor="end" >0%</text>
<path d="M308.3,391.6 L304.1,391.6" class="a"/>
<text x="300.5" y="394.1" font-size="7.1" text-anchor="end" >1%</text>
<path d="M308.3,365.9 L304.1,365.9" class="a"/>
<text x="300.5" y="368.4" font-size="7.1" text-anchor="end" >2%</text>
<path d="M308.3,340.2 L304.1,340.2" class="a"/>
<text x="300.5" y="342.7" font-size="7.1" text-anchor="end" >3%</text>
<path d="M308.3,314.5 L304.1,314.5" class="a"/>
<text x="300.5" y="317" font-size="7.1" text-anchor="end" >4%</text>
<path d="M308.3,288.8 L304.1,288.8" class="a"/>
<text x="300.5" y="291.3" font-size="7.1" text-anchor="end" >5%</text>
<path d="M308.3,263.1 L304.1,263.1" class="a"/>
<text x="300.5" y="265.6" font-size="7.1" text-anchor="end" >6%</text>
<text x="285.5" y="340.5" font-size="7.6" text-anchor="middle" transform="rotate(-90 285.5 340.5)">Path length reduction rate</text>
<text x="326.3" y="451.4" font-size="7.6" text-anchor="middle" >Number of grids(m)</text>
<text x="471.8" y="454" font-size="7.6" text-anchor="middle" >Percentage of Obstacles(%)</text>
<path d="M438.1,275.6 L448.3,343.3 L435,286.4 Z M438.1,275.6 L435,286.4 L424.8,295 Z" fill="#f9fb15" stroke="#f9fb15" stroke-width="0.25"/>
<path d="M438.1,275.6 L448.3,343.3 L435,286.4 L424.8,295 Z" class="e"/>
<g class="m"><circle cx="438.1" cy="275.6" r="1.2"/></g>
<path d="M424.8,295 L435,286.4 L421.7,284.9 Z M424.8,295 L421.7,284.9 L411.5,332.5 Z" fill="#febe3c" stroke="#febe3c" stroke-width="0.25"/>
<path d="M424.8,295 L435,286.4 L421.7,284.9 L411.5,332.5 Z" class="e"/>
<g class="m"><circle cx="424.8" cy="295" r="1.2"/></g>
<path d="M411.5,332.5 L421.7,284.9 L408.4,288 Z M411.5,332.5 L408.4,288 L398.2,368.8 Z" fill="#24c1ae" stroke="#24c1ae" stroke-width="0.25"/>
<path d="M411.5,332.5 L421.7,284.9 L408.4,288 L398.2,368.8 Z" class="e"/>
<g class="m"><circle cx="411.5" cy="332.5" r="1.2"/></g>
<path d="M398.2,368.8 L408.4,288 L395.1,355.3 Z M398.2,368.8 L395.1,355.3 L384.9,323.2 Z" fill="#3f6efe" stroke="#3f6efe" stroke-width="0.25"/>
<path d="M398.2,368.8 L408.4,288 L395.1,355.3 L384.9,323.2 Z" class="e"/>
<g class="m"><circle cx="398.2" cy="368.8" r="1.2"/></g>
<path d="M384.9,323.2 L395.1,355.3 L381.8,319.5 Z M384.9,323.2 L381.8,319.5 L371.6,289.7 Z" fill="#5ccc75" stroke="#5ccc75" stroke-width="0.25"/>
<path d="M384.9,323.2 L395.1,355.3 L381.8,319.5 L371.6,289.7 Z" class="e"/>
<g class="m"><circle cx="384.9" cy="323.2" r="1.2"/></g>
<path d="M371.6,289.7 L381.8,319.5 L368.5,327.2 Z M371.6,289.7 L368.5,327.2 L358.3,293 Z" fill="#f6df29" stroke="#f6df29" stroke-width="0.25"/>
<path d="M371.6,289.7 L381.8,319.5 L368.5,327.2 L358.3,293 Z" class="e"/>
<g class="m"><circle cx="371.6" cy="289.7" r="1.2"/></g>
<path d="M358.3,293 L368.5,327.2 L355.2,325.4 Z M358.3,293 L355.2,325.4 L345,294 Z" fill="#f9d82c" stroke="#f9d82c" stroke-width="0.25"/>
<path d="M358.3,293 L368.5,327.2 L355.2,325.4 L345,294 Z" class="e"/>
<g class="m"><circle cx="358.3" cy="293" r="1.2"/></g>
<path d="M345,294 L355.2,325.4 L341.9,335.3 Z M345,294 L341.9,335.3 L331.7,314.2 Z" fill="#f9d82c" stroke="#f9d82c" stroke-width="0.25"/>
<path d="M345,294 L355.2,325.4 L341.9,335.3 L331.7,314.2 Z" class="e"/>
<g class="m"><circle cx="345" cy="294" r="1.2"/></g>
<path d="M331.7,314.2 L341.9,335.3 L328.6,351.5 Z M331.7,314.2 L328.6,351.5 L318.4,333.1 Z" fill="#c4c22b" stroke="#c4c22b" stroke-width="0.25"/>
<path d="M331.7,314.2 L341.9,335.3 L328.6,351.5 L318.4,333.1 Z" class="e"/>
<g class="m"><circle cx="331.7" cy="314.2" r="1.2"/><circle cx="318.4" cy="333.1" r="1.2"/></g>
<path d="M448.3,343.3 L458.4,316 L445.1,324.1 Z M448.3,343.3 L445.1,324.1 L435,286.4 Z" fill="#13b0d7" stroke="#13b0d7" stroke-width="0.25"/>
<path d="M448.3,343.3 L458.4,316 L445.1,324.1 L435,286.4 Z" class="e"/>
<g class="m"><circle cx="448.3" cy="343.3" r="1.2"/></g>
<path d="M435,286.4 L445.1,324.1 L431.8,327.8 Z M435,286.4 L431.8,327.8 L421.7,284.9 Z" fill="#f6e028" stroke="#f6e028" stroke-width="0.25"/>
<path d="M435,286.4 L445.1,324.1 L431.8,327.8 L421.7,284.9 Z" class="e"/>
<g class="m"><circle cx="435" cy="286.4" r="1.2"/></g>
<path d="M421.7,284.9 L431.8,327.8 L418.5,338 Z M421.7,284.9 L418.5,338 L408.4,288 Z" fill="#f5e924" stroke="#f5e924" stroke-width="0.25"/>
<path d="M421.7,284.9 L431.8,327.8 L418.5,338 L408.4,288 Z" class="e"/>
<g class="m"><circle cx="421.7" cy="284.9" r="1.2"/></g>
<path d="M408.4,288 L418.5,338 L405.2,323.4 Z M408.4,288 L405.2,323.4 L395.1,355.3 Z" fill="#f5e327" stroke="#f5e327" stroke-width="0.25"/>
<path d="M408.4,288 L418.5,338 L405.2,323.4 L395.1,355.3 Z" class="e"/>
<g class="m"><circle cx="408.4" cy="288" r="1.2"/></g>
<path d="M395.1,355.3 L405.2,323.4 L391.9,335.8 Z M395.1,355.3 L391.9,335.8 L381.8,319.5 Z" fill="#249fe6" stroke="#249fe6" stroke-width="0.25"/>
<path d="M395.1,355.3 L405.2,323.4 L391.9,335.8 L381.8,319.5 Z" class="e"/>
<g class="m"><circle cx="395.1" cy="355.3" r="1.2"/></g>
<path d="M381.8,319.5 L391.9,335.8 L378.6,368.2 Z M381.8,319.5 L378.6,368.2 L368.5,327.2 Z" fill="#8fcb4e" stroke="#8fcb4e" stroke-width="0.25"/>
<path d="M381.8,319.5 L391.9,335.8 L378.6,368.2 L368.5,327.2 Z" class="e"/>
<g class="m"><circle cx="381.8" cy="319.5" r="1.2"/></g>
<path d="M368.5,327.2 L378.6,368.2 L365.3,333.2 Z M368.5,327.2 L365.3,333.2 L355.2,325.4 Z" fill="#5ccc76" stroke="#5ccc76" stroke-width="0.25"/>
<path d="M368.5,327.2 L378.6,368.2 L365.3,333.2 L355.2,325.4 Z" class="e"/>
<g class="m"><circle cx="368.5" cy="327.2" r="1.2"/></g>
<path d="M355.2,325.4 L365.3,333.2 L352,366.7 Z M355.2,325.4 L352,366.7 L341.9,335.3 Z" fill="#72cd63" stroke="#72cd63" stroke-width="0.25"/>
<path d="M355.2,325.4 L365.3,333.2 L352,366.7 L341.9,335.3 Z" class="e"/>
<g class="m"><circle cx="355.2" cy="325.4" r="1.2"/></g>
<path d="M341.9,335.3 L352,366.7 L338.7,330.7 Z M341.9,335.3 L338.7,330.7 L328.6,351.5 Z" fill="#39c895" stroke="#39c895" stroke-width="0.25"/>
<path d="M341.9,335.3 L352,366.7 L338.7,330.7 L328.6,351.5 Z" class="e"/>
<g class="m"><circle cx="341.9" cy="335.3" r="1.2"/><circle cx="328.6" cy="351.5" r="1.2"/></g>
<path d="M458.4,316 L468.5,310.6 L455.2,347.4 Z M458.4,316 L455.2,347.4 L445.1,324.1 Z" fill="#8acb51" stroke="#8acb51" stroke-width="0.25"/>
<path d="M458.4,316 L468.5,310.6 L455.2,347.4 L445.1,324.1 Z" class="e"/>
<g class="m"><circle cx="458.4" cy="316" r="1.2"/></g>
<path d="M445.1,324.1 L455.2,347.4 L441.9,325.8 Z M445.1,324.1 L441.9,325.8 L431.8,327.8 Z" fill="#55cc7c" stroke="#55cc7c" stroke-width="0.25"/>
<path d="M445.1,324.1 L455.2,347.4 L441.9,325.8 L431.8,327.8 Z" class="e"/>
<g class="m"><circle cx="445.1" cy="324.1" r="1.2"/></g>
<path d="M431.8,327.8 L441.9,325.8 L428.6,354.3 Z M431.8,327.8 L428.6,354.3 L418.5,338 Z" fill="#44cb8a" stroke="#44cb8a" stroke-width="0.25"/>
<path d="M431.8,327.8 L441.9,325.8 L428.6,354.3 L418.5,338 Z" class="e"/>
<g class="m"><circle cx="431.8" cy="327.8" r="1.2"/></g>
<path d="M418.5,338 L428.6,354.3 L415.3,346 Z M418.5,338 L415.3,346 L405.2,323.4 Z" fill="#1ec0b2" stroke="#1ec0b2" stroke-width="0.25"/>
<path d="M418.5,338 L428.6,354.3 L415.3,346 L405.2,323.4 Z" class="e"/>
<g class="m"><circle cx="418.5" cy="338" r="1.2"/></g>
<path d="M405.2,323.4 L415.3,346 L402,345.7 Z M405.2,323.4 L402,345.7 L391.9,335.8 Z" fill="#74cc62" stroke="#74cc62" stroke-width="0.25"/>
<path d="M405.2,323.4 L415.3,346 L402,345.7 L391.9,335.8 Z" class="e"/>
<g class="m"><circle cx="405.2" cy="323.4" r="1.2"/></g>
<path d="M391.9,335.8 L402,345.7 L388.7,344.1 Z M391.9,335.8 L388.7,344.1 L378.6,368.2 Z" fill="#31c6a0" stroke="#31c6a0" stroke-width="0.25"/>
<path d="M391.9,335.8 L402,345.7 L388.7,344.1 L378.6,368.2 Z" class="e"/>
<g class="m"><circle cx="391.9" cy="335.8" r="1.2"/></g>
<path d="M378.6,368.2 L388.7,344.1 L375.4,333.4 Z M378.6,368.2 L375.4,333.4 L365.3,333.2 Z" fill="#2e86f7" stroke="#2e86f7" stroke-width="0.25"/>
<path d="M378.6,368.2 L388.7,344.1 L375.4,333.4 L365.3,333.2 Z" class="e"/>
<g class="m"><circle cx="378.6" cy="368.2" r="1.2"/></g>
<path d="M365.3,333.2 L375.4,333.4 L362.1,375.4 Z M365.3,333.2 L362.1,375.4 L352,366.7 Z" fill="#46cb87" stroke="#46cb87" stroke-width="0.25"/>
<path d="M365.3,333.2 L375.4,333.4 L362.1,375.4 L352,366.7 Z" class="e"/>
<g class="m"><circle cx="365.3" cy="333.2" r="1.2"/></g>
<path d="M352,366.7 L362.1,375.4 L348.8,350 Z M352,366.7 L348.8,350 L338.7,330.7 Z" fill="#2b91ef" stroke="#2b91ef" stroke-width="0.25"/>
<path d="M352,366.7 L362.1,375.4 L348.8,350 L338.7,330.7 Z" class="e"/>
<g class="m"><circle cx="352" cy="366.7" r="1.2"/><circle cx="338.7" cy="330.7" r="1.2"/></g>
<path d="M468.5,310.6 L478.7,338.7 L465.4,359.1 Z M468.5,310.6 L465.4,359.1 L455.2,347.4 Z" fill="#bfc32d" stroke="#bfc32d" stroke-width="0.25"/>
<path d="M468.5,310.6 L478.7,338.7 L465.4,359.1 L455.2,347.4 Z" class="e"/>
<g class="m"><circle cx="468.5" cy="310.6" r="1.2"/></g>
<path d="M455.2,347.4 L465.4,359.1 L452.1,352.4 Z M455.2,347.4 L452.1,352.4 L441.9,325.8 Z" fill="#12b1d6" stroke="#12b1d6" stroke-width="0.25"/>
<path d="M455.2,347.4 L465.4,359.1 L452.1,352.4 L441.9,325.8 Z" class="e"/>
<g class="m"><circle cx="455.2" cy="347.4" r="1.2"/></g>
<path d="M441.9,325.8 L452.1,352.4 L438.8,351.3 Z M441.9,325.8 L438.8,351.3 L428.6,354.3 Z" fill="#5dcc75" stroke="#5dcc75" stroke-width="0.25"/>
<path d="M441.9,325.8 L452.1,352.4 L438.8,351.3 L428.6,354.3 Z" class="e"/>
<g class="m"><circle cx="441.9" cy="325.8" r="1.2"/></g>
<path d="M428.6,354.3 L438.8,351.3 L425.5,337.8 Z M428.6,354.3 L425.5,337.8 L415.3,346 Z" fill="#1ea7e1" stroke="#1ea7e1" stroke-width="0.25"/>
<path d="M428.6,354.3 L438.8,351.3 L425.5,337.8 L415.3,346 Z" class="e"/>
<g class="m"><circle cx="428.6" cy="354.3" r="1.2"/></g>
<path d="M415.3,346 L425.5,337.8 L412.2,352.9 Z M415.3,346 L412.2,352.9 L402,345.7 Z" fill="#01bac6" stroke="#01bac6" stroke-width="0.25"/>
<path d="M415.3,346 L425.5,337.8 L412.2,352.9 L402,345.7 Z" class="e"/>
<g class="m"><circle cx="415.3" cy="346" r="1.2"/></g>
<path d="M402,345.7 L412.2,352.9 L398.9,349.5 Z M402,345.7 L398.9,349.5 L388.7,344.1 Z" fill="#06bcc0" stroke="#06bcc0" stroke-width="0.25"/>
<path d="M402,345.7 L412.2,352.9 L398.9,349.5 L388.7,344.1 Z" class="e"/>
<g class="m"><circle cx="402" cy="345.7" r="1.2"/></g>
<path d="M388.7,344.1 L398.9,349.5 L385.6,388 Z M388.7,344.1 L385.6,388 L375.4,333.4 Z" fill="#18bfb6" stroke="#18bfb6" stroke-width="0.25"/>
<path d="M388.7,344.1 L398.9,349.5 L385.6,388 L375.4,333.4 Z" class="e"/>
<g class="m"><circle cx="388.7" cy="344.1" r="1.2"/></g>
<path d="M375.4,333.4 L385.6,388 L372.3,381.2 Z M375.4,333.4 L372.3,381.2 L362.1,375.4 Z" fill="#50cc7f" stroke="#50cc7f" stroke-width="0.25"/>
<path d="M375.4,333.4 L385.6,388 L372.3,381.2 L362.1,375.4 Z" class="e"/>
<g class="m"><circle cx="375.4" cy="333.4" r="1.2"/></g>
<path d="M362.1,375.4 L372.3,381.2 L359,385.5 Z M362.1,375.4 L359,385.5 L348.8,350 Z" fill="#327cfc" stroke="#327cfc" stroke-width="0.25"/>
<path d="M362.1,375.4 L372.3,381.2 L359,385.5 L348.8,350 Z" class="e"/>
<g class="m"><circle cx="362.1" cy="375.4" r="1.2"/><circle cx="348.8" cy="350" r="1.2"/></g>
<path d="M478.7,338.7 L488.8,356.5 L475.5,337 Z M478.7,338.7 L475.5,337 L465.4,359.1 Z" fill="#19bfb5" stroke="#19bfb5" stroke-width="0.25"/>
<path d="M478.7,338.7 L488.8,356.5 L475.5,337 L465.4,359.1 Z" class="e"/>
<g class="m"><circle cx="478.7" cy="338.7" r="1.2"/></g>
<path d="M465.4,359.1 L475.5,337 L462.2,342 Z M465.4,359.1 L462.2,342 L452.1,352.4 Z" fill="#2699e9" stroke="#2699e9" stroke-width="0.25"/>
<path d="M465.4,359.1 L475.5,337 L462.2,342 L452.1,352.4 Z" class="e"/>
<g class="m"><circle cx="465.4" cy="359.1" r="1.2"/></g>
<path d="M452.1,352.4 L462.2,342 L448.9,347.8 Z M452.1,352.4 L448.9,347.8 L438.8,351.3 Z" fill="#19acdc" stroke="#19acdc" stroke-width="0.25"/>
<path d="M452.1,352.4 L462.2,342 L448.9,347.8 L438.8,351.3 Z" class="e"/>
<g class="m"><circle cx="452.1" cy="352.4" r="1.2"/></g>
<path d="M438.8,351.3 L448.9,347.8 L435.6,338.5 Z M438.8,351.3 L435.6,338.5 L425.5,337.8 Z" fill="#11b1d6" stroke="#11b1d6" stroke-width="0.25"/>
<path d="M438.8,351.3 L448.9,347.8 L435.6,338.5 L425.5,337.8 Z" class="e"/>
<g class="m"><circle cx="438.8" cy="351.3" r="1.2"/></g>
<path d="M425.5,337.8 L435.6,338.5 L422.3,322.7 Z M425.5,337.8 L422.3,322.7 L412.2,352.9 Z" fill="#32c69f" stroke="#32c69f" stroke-width="0.25"/>
<path d="M425.5,337.8 L435.6,338.5 L422.3,322.7 L412.2,352.9 Z" class="e"/>
<g class="m"><circle cx="425.5" cy="337.8" r="1.2"/></g>
<path d="M412.2,352.9 L422.3,322.7 L409,369.1 Z M412.2,352.9 L409,369.1 L398.9,349.5 Z" fill="#0db3d4" stroke="#0db3d4" stroke-width="0.25"/>
<path d="M412.2,352.9 L422.3,322.7 L409,369.1 L398.9,349.5 Z" class="e"/>
<g class="m"><circle cx="412.2" cy="352.9" r="1.2"/></g>
<path d="M398.9,349.5 L409,369.1 L395.7,370.8 Z M398.9,349.5 L395.7,370.8 L385.6,388 Z" fill="#02bac4" stroke="#02bac4" stroke-width="0.25"/>
<path d="M398.9,349.5 L409,369.1 L395.7,370.8 L385.6,388 Z" class="e"/>
<g class="m"><circle cx="398.9" cy="349.5" r="1.2"/></g>
<path d="M385.6,388 L395.7,370.8 L382.4,362.8 Z M385.6,388 L382.4,362.8 L372.3,381.2 Z" fill="#4755f6" stroke="#4755f6" stroke-width="0.25"/>
<path d="M385.6,388 L395.7,370.8 L382.4,362.8 L372.3,381.2 Z" class="e"/>
<g class="m"><circle cx="385.6" cy="388" r="1.2"/></g>
<path d="M372.3,381.2 L382.4,362.8 L369.1,365.5 Z M372.3,381.2 L369.1,365.5 L359,385.5 Z" fill="#3f6eff" stroke="#3f6eff" stroke-width="0.25"/>
<path d="M372.3,381.2 L382.4,362.8 L369.1,365.5 L359,385.5 Z" class="e"/>
<g class="m"><circle cx="372.3" cy="381.2" r="1.2"/><circle cx="359" cy="385.5" r="1.2"/></g>
<path d="M488.8,356.5 L498.9,400.4 L485.6,365.1 Z M488.8,356.5 L485.6,365.1 L475.5,337 Z" fill="#23a1e4" stroke="#23a1e4" stroke-width="0.25"/>
<path d="M488.8,356.5 L498.9,400.4 L485.6,365.1 L475.5,337 Z" class="e"/>
<g class="m"><circle cx="488.8" cy="356.5" r="1.2"/></g>
<path d="M475.5,337 L485.6,365.1 L472.3,331.8 Z M475.5,337 L472.3,331.8 L462.2,342 Z" fill="#2fc5a3" stroke="#2fc5a3" stroke-width="0.25"/>
<path d="M475.5,337 L485.6,365.1 L472.3,331.8 L462.2,342 Z" class="e"/>
<g class="m"><circle cx="475.5" cy="337" r="1.2"/></g>
<path d="M462.2,342 L472.3,331.8 L459,357.3 Z M462.2,342 L459,357.3 L448.9,347.8 Z" fill="#1dc0b3" stroke="#1dc0b3" stroke-width="0.25"/>
<path d="M462.2,342 L472.3,331.8 L459,357.3 L448.9,347.8 Z" class="e"/>
<g class="m"><circle cx="462.2" cy="342" r="1.2"/></g>
<path d="M448.9,347.8 L459,357.3 L445.7,356.8 Z M448.9,347.8 L445.7,356.8 L435.6,338.5 Z" fill="#02bac4" stroke="#02bac4" stroke-width="0.25"/>
<path d="M448.9,347.8 L459,357.3 L445.7,356.8 L435.6,338.5 Z" class="e"/>
<g class="m"><circle cx="448.9" cy="347.8" r="1.2"/></g>
<path d="M435.6,338.5 L445.7,356.8 L432.4,332.7 Z M435.6,338.5 L432.4,332.7 L422.3,322.7 Z" fill="#35c79a" stroke="#35c79a" stroke-width="0.25"/>
<path d="M435.6,338.5 L445.7,356.8 L432.4,332.7 L422.3,322.7 Z" class="e"/>
<g class="m"><circle cx="435.6" cy="338.5" r="1.2"/></g>
<path d="M422.3,322.7 L432.4,332.7 L419.1,353.7 Z M422.3,322.7 L419.1,353.7 L409,369.1 Z" fill="#aac73a" stroke="#aac73a" stroke-width="0.25"/>
<path d="M422.3,322.7 L432.4,332.7 L419.1,353.7 L409,369.1 Z" class="e"/>
<g class="m"><circle cx="422.3" cy="322.7" r="1.2"/></g>
<path d="M409,369.1 L419.1,353.7 L405.8,367.3 Z M409,369.1 L405.8,367.3 L395.7,370.8 Z" fill="#2b92ee" stroke="#2b92ee" stroke-width="0.25"/>
<path d="M409,369.1 L419.1,353.7 L405.8,367.3 L395.7,370.8 Z" class="e"/>
<g class="m"><circle cx="409" cy="369.1" r="1.2"/></g>
<path d="M395.7,370.8 L405.8,367.3 L392.5,385.2 Z M395.7,370.8 L392.5,385.2 L382.4,362.8 Z" fill="#2b90f0" stroke="#2b90f0" stroke-width="0.25"/>
<path d="M395.7,370.8 L405.8,367.3 L392.5,385.2 L382.4,362.8 Z" class="e"/>
<g class="m"><circle cx="395.7" cy="370.8" r="1.2"/></g>
<path d="M382.4,362.8 L392.5,385.2 L379.2,355.9 Z M382.4,362.8 L379.2,355.9 L369.1,365.5 Z" fill="#1da8e0" stroke="#1da8e0" stroke-width="0.25"/>
<path d="M382.4,362.8 L392.5,385.2 L379.2,355.9 L369.1,365.5 Z" class="e"/>
<g class="m"><circle cx="382.4" cy="362.8" r="1.2"/><circle cx="369.1" cy="365.5" r="1.2"/></g>
<path d="M498.9,400.4 L509,369.6 L495.7,377.6 Z M498.9,400.4 L495.7,377.6 L485.6,365.1 Z" fill="#3e26a8" stroke="#3e26a8" stroke-width="0.25"/>
<path d="M498.9,400.4 L509,369.6 L495.7,377.6 L485.6,365.1 Z" class="e"/>
<g class="m"><circle cx="498.9" cy="400.4" r="1.2"/></g>
<path d="M485.6,365.1 L495.7,377.6 L482.4,374.4 Z M485.6,365.1 L482.4,374.4 L472.3,331.8 Z" fill="#2b92ef" stroke="#2b92ef" stroke-width="0.25"/>
<path d="M485.6,365.1 L495.7,377.6 L482.4,374.4 L472.3,331.8 Z" class="e"/>
<g class="m"><circle cx="485.6" cy="365.1" r="1.2"/></g>
<path d="M472.3,331.8 L482.4,374.4 L469.1,377.6 Z M472.3,331.8 L469.1,377.6 L459,357.3 Z" fill="#56cc7b" stroke="#56cc7b" stroke-width="0.25"/>
<path d="M472.3,331.8 L482.4,374.4 L469.1,377.6 L459,357.3 Z" class="e"/>
<g class="m"><circle cx="472.3" cy="331.8" r="1.2"/></g>
<path d="M459,357.3 L469.1,377.6 L455.8,389.6 Z M459,357.3 L455.8,389.6 L445.7,356.8 Z" fill="#1aacdd" stroke="#1aacdd" stroke-width="0.25"/>
<path d="M459,357.3 L469.1,377.6 L455.8,389.6 L445.7,356.8 Z" class="e"/>
<g class="m"><circle cx="459" cy="357.3" r="1.2"/></g>
<path d="M445.7,356.8 L455.8,389.6 L442.5,391.6 Z M445.7,356.8 L442.5,391.6 L432.4,332.7 Z" fill="#15afd9" stroke="#15afd9" stroke-width="0.25"/>
<path d="M445.7,356.8 L455.8,389.6 L442.5,391.6 L432.4,332.7 Z" class="e"/>
<g class="m"><circle cx="445.7" cy="356.8" r="1.2"/></g>
<path d="M432.4,332.7 L442.5,391.6 L429.2,399.1 Z M432.4,332.7 L429.2,399.1 L419.1,353.7 Z" fill="#68cd6b" stroke="#68cd6b" stroke-width="0.25"/>
<path d="M432.4,332.7 L442.5,391.6 L429.2,399.1 L419.1,353.7 Z" class="e"/>
<g class="m"><circle cx="432.4" cy="332.7" r="1.2"/></g>
<path d="M419.1,353.7 L429.2,399.1 L415.9,383.7 Z M419.1,353.7 L415.9,383.7 L405.8,367.3 Z" fill="#01b9c7" stroke="#01b9c7" stroke-width="0.25"/>
<path d="M419.1,353.7 L429.2,399.1 L415.9,383.7 L405.8,367.3 Z" class="e"/>
<g class="m"><circle cx="419.1" cy="353.7" r="1.2"/></g>
<path d="M405.8,367.3 L415.9,383.7 L402.6,390.1 Z M405.8,367.3 L402.6,390.1 L392.5,385.2 Z" fill="#249ee6" stroke="#249ee6" stroke-width="0.25"/>
<path d="M405.8,367.3 L415.9,383.7 L402.6,390.1 L392.5,385.2 Z" class="e"/>
<g class="m"><circle cx="405.8" cy="367.3" r="1.2"/></g>
<path d="M392.5,385.2 L402.6,390.1 L389.3,395.8 Z M392.5,385.2 L389.3,395.8 L379.2,355.9 Z" fill="#416cfe" stroke="#416cfe" stroke-width="0.25"/>
<path d="M392.5,385.2 L402.6,390.1 L389.3,395.8 L379.2,355.9 Z" class="e"/>
<g class="m"><circle cx="392.5" cy="385.2" r="1.2"/><circle cx="379.2" cy="355.9" r="1.2"/></g>
<path d="M509,369.6 L519.2,371.6 L505.9,396.4 Z M509,369.6 L505.9,396.4 L495.7,377.6 Z" fill="#2e86f7" stroke="#2e86f7" stroke-width="0.25"/>
<path d="M509,369.6 L519.2,371.6 L505.9,396.4 L495.7,377.6 Z" class="e"/>
<g class="m"><circle cx="509" cy="369.6" r="1.2"/></g>
<path d="M495.7,377.6 L505.9,396.4 L492.6,350 Z M495.7,377.6 L492.6,350 L482.4,374.4 Z" fill="#3e70ff" stroke="#3e70ff" stroke-width="0.25"/>
<path d="M495.7,377.6 L505.9,396.4 L492.6,350 L482.4,374.4 Z" class="e"/>
<g class="m"><circle cx="495.7" cy="377.6" r="1.2"/></g>
<path d="M482.4,374.4 L492.6,350 L479.3,374.4 Z M482.4,374.4 L479.3,374.4 L469.1,377.6 Z" fill="#317efb" stroke="#317efb" stroke-width="0.25"/>
<path d="M482.4,374.4 L492.6,350 L479.3,374.4 L469.1,377.6 Z" class="e"/>
<g class="m"><circle cx="482.4" cy="374.4" r="1.2"/></g>
<path d="M469.1,377.6 L479.3,374.4 L466,365.4 Z M469.1,377.6 L466,365.4 L455.8,389.6 Z" fill="#3677fe" stroke="#3677fe" stroke-width="0.25"/>
<path d="M469.1,377.6 L479.3,374.4 L466,365.4 L455.8,389.6 Z" class="e"/>
<g class="m"><circle cx="469.1" cy="377.6" r="1.2"/></g>
<path d="M455.8,389.6 L466,365.4 L452.7,364 Z M455.8,389.6 L452.7,364 L442.5,391.6 Z" fill="#4854f6" stroke="#4854f6" stroke-width="0.25"/>
<path d="M455.8,389.6 L466,365.4 L452.7,364 L442.5,391.6 Z" class="e"/>
<g class="m"><circle cx="455.8" cy="389.6" r="1.2"/></g>
<path d="M442.5,391.6 L452.7,364 L439.4,384 Z M442.5,391.6 L439.4,384 L429.2,399.1 Z" fill="#4852f4" stroke="#4852f4" stroke-width="0.25"/>
<path d="M442.5,391.6 L452.7,364 L439.4,384 L429.2,399.1 Z" class="e"/>
<g class="m"><circle cx="442.5" cy="391.6" r="1.2"/></g>
<path d="M429.2,399.1 L439.4,384 L426.1,358.1 Z M429.2,399.1 L426.1,358.1 L415.9,383.7 Z" fill="#473ee1" stroke="#473ee1" stroke-width="0.25"/>
<path d="M429.2,399.1 L439.4,384 L426.1,358.1 L415.9,383.7 Z" class="e"/>
<g class="m"><circle cx="429.2" cy="399.1" r="1.2"/></g>
<path d="M415.9,383.7 L426.1,358.1 L412.8,376.6 Z M415.9,383.7 L412.8,376.6 L402.6,390.1 Z" fill="#3b73fe" stroke="#3b73fe" stroke-width="0.25"/>
<path d="M415.9,383.7 L426.1,358.1 L412.8,376.6 L402.6,390.1 Z" class="e"/>
<g class="m"><circle cx="415.9" cy="383.7" r="1.2"/></g>
<path d="M402.6,390.1 L412.8,376.6 L399.5,370 Z M402.6,390.1 L399.5,370 L389.3,395.8 Z" fill="#4561fc" stroke="#4561fc" stroke-width="0.25"/>
<path d="M402.6,390.1 L412.8,376.6 L399.5,370 L389.3,395.8 Z" class="e"/>
<g class="m"><circle cx="402.6" cy="390.1" r="1.2"/><circle cx="389.3" cy="395.8" r="1.2"/></g>
<path d="M519.2,371.6 L529.3,375.6 L516,401.4 Z M519.2,371.6 L516,401.4 L505.9,396.4 Z" fill="#2e85f8" stroke="#2e85f8" stroke-width="0.25"/>
<path d="M519.2,371.6 L529.3,375.6 L516,401.4 L505.9,396.4 Z" class="e"/>
<g class="m"><circle cx="519.2" cy="371.6" r="1.2"/><circle cx="529.3" cy="375.6" r="1.2"/></g>
<path d="M505.9,396.4 L516,401.4 L502.7,377.6 Z M505.9,396.4 L502.7,377.6 L492.6,350 Z" fill="#463adb" stroke="#463adb" stroke-width="0.25"/>
<path d="M505.9,396.4 L516,401.4 L502.7,377.6 L492.6,350 Z" class="e"/>
<g class="m"><circle cx="505.9" cy="396.4" r="1.2"/><circle cx="516" cy="401.4" r="1.2"/></g>
<path d="M492.6,350 L502.7,377.6 L489.4,360 Z M492.6,350 L489.4,360 L479.3,374.4 Z" fill="#09bcbe" stroke="#09bcbe" stroke-width="0.25"/>
<path d="M492.6,350 L502.7,377.6 L489.4,360 L479.3,374.4 Z" class="e"/>
<g class="m"><circle cx="492.6" cy="350" r="1.2"/><circle cx="502.7" cy="377.6" r="1.2"/></g>
<path d="M479.3,374.4 L489.4,360 L476.1,361.6 Z M479.3,374.4 L476.1,361.6 L466,365.4 Z" fill="#2e87f7" stroke="#2e87f7" stroke-width="0.25"/>
<path d="M479.3,374.4 L489.4,360 L476.1,361.6 L466,365.4 Z" class="e"/>
<g class="m"><circle cx="479.3" cy="374.4" r="1.2"/><circle cx="489.4" cy="360" r="1.2"/></g>
<path d="M466,365.4 L476.1,361.6 L462.8,358 Z M466,365.4 L462.8,358 L452.7,364 Z" fill="#21a3e3" stroke="#21a3e3" stroke-width="0.25"/>
<path d="M466,365.4 L476.1,361.6 L462.8,358 L452.7,364 Z" class="e"/>
<g class="m"><circle cx="466" cy="365.4" r="1.2"/><circle cx="476.1" cy="361.6" r="1.2"/></g>
<path d="M452.7,364 L462.8,358 L449.5,368.2 Z M452.7,364 L449.5,368.2 L439.4,384 Z" fill="#1ca9df" stroke="#1ca9df" stroke-width="0.25"/>
<path d="M452.7,364 L462.8,358 L449.5,368.2 L439.4,384 Z" class="e"/>
<g class="m"><circle cx="452.7" cy="364" r="1.2"/><circle cx="462.8" cy="358" r="1.2"/></g>
<path d="M439.4,384 L449.5,368.2 L436.2,376.2 Z M439.4,384 L436.2,376.2 L426.1,358.1 Z" fill="#3a73fe" stroke="#3a73fe" stroke-width="0.25"/>
<path d="M439.4,384 L449.5,368.2 L436.2,376.2 L426.1,358.1 Z" class="e"/>
<g class="m"><circle cx="439.4" cy="384" r="1.2"/><circle cx="449.5" cy="368.2" r="1.2"/></g>
<path d="M426.1,358.1 L436.2,376.2 L422.9,349.4 Z M426.1,358.1 L422.9,349.4 L412.8,376.6 Z" fill="#01b9c6" stroke="#01b9c6" stroke-width="0.25"/>
<path d="M426.1,358.1 L436.2,376.2 L422.9,349.4 L412.8,376.6 Z" class="e"/>
<g class="m"><circle cx="426.1" cy="358.1" r="1.2"/><circle cx="436.2" cy="376.2" r="1.2"/></g>
<path d="M412.8,376.6 L422.9,349.4 L409.6,369.3 Z M412.8,376.6 L409.6,369.3 L399.5,370 Z" fill="#2b91ef" stroke="#2b91ef" stroke-width="0.25"/>
<path d="M412.8,376.6 L422.9,349.4 L409.6,369.3 L399.5,370 Z" class="e"/>
<g class="m"><circle cx="412.8" cy="376.6" r="1.2"/><circle cx="399.5" cy="370" r="1.2"/><circle cx="422.9" cy="349.4" r="1.2"/><circle cx="409.6" cy="369.3" r="1.2"/></g>
</g>
<text class="cap" x="134.2" y="236.5" font-size="13" letter-spacing="0.3" text-anchor="middle">(<tspan font-weight="bold">a</tspan>)</text>
<text class="cap" x="411.4" y="236.5" font-size="13" letter-spacing="0.3" text-anchor="middle">(<tspan font-weight="bold">b</tspan>)</text>
<text class="cap" x="134.6" y="480.3" font-size="13" letter-spacing="0.3" text-anchor="middle">(<tspan font-weight="bold">c</tspan>)</text>
<text class="cap" x="411.5" y="480.2" font-size="13" letter-spacing="0.3" text-anchor="middle">(<tspan font-weight="bold">d</tspan>)</text>
</svg></body></html>
